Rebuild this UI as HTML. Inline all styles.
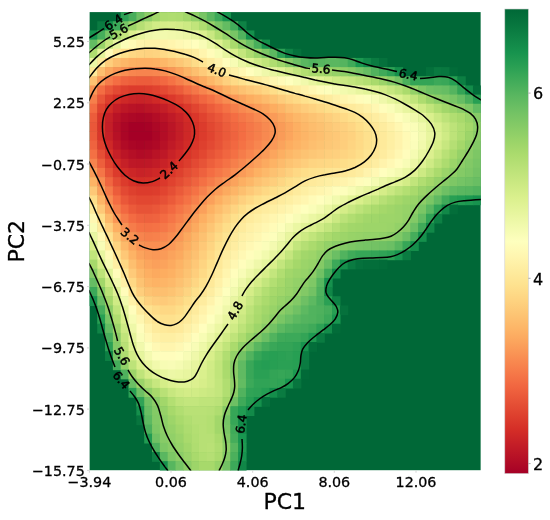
<!DOCTYPE html>
<html><head><meta charset="utf-8"><title>PC1 PC2</title>
<style>html,body{margin:0;padding:0;background:#fff}svg{display:block}text{font-family:"DejaVu Sans","Liberation Sans",sans-serif;fill:#000;stroke:#000;stroke-width:0.3px}.cl text{stroke-width:0.5px}</style></head><body>
<svg width="550" height="520" viewBox="0 0 550 520">
<rect width="550" height="520" fill="#fff"/>
<defs><clipPath id="ax"><rect x="89.4" y="12.1" width="391.4" height="458.3"/></clipPath></defs>
<g clip-path="url(#ax)">
<rect x="89.4" y="12.1" width="391.4" height="458.3" fill="#006837"/>
<rect x="120.71" y="12.10" width="8.43" height="9.77" fill="#2da155"/><rect x="128.54" y="12.10" width="8.43" height="9.77" fill="#48ae5c"/><rect x="136.37" y="12.10" width="8.43" height="9.77" fill="#6ec064"/><rect x="144.20" y="12.10" width="8.43" height="9.77" fill="#8ccd67"/><rect x="152.02" y="12.10" width="8.43" height="9.77" fill="#a2d76a"/><rect x="159.85" y="12.10" width="8.43" height="9.77" fill="#addc6f"/><rect x="167.68" y="12.10" width="8.43" height="9.77" fill="#afdd70"/><rect x="175.51" y="12.10" width="8.43" height="9.77" fill="#addc6f"/><rect x="183.34" y="12.10" width="8.43" height="9.77" fill="#a2d76a"/><rect x="191.16" y="12.10" width="8.43" height="9.77" fill="#91d068"/><rect x="198.99" y="12.10" width="8.43" height="9.77" fill="#78c565"/><rect x="206.82" y="12.10" width="8.43" height="9.77" fill="#5ab760"/><rect x="214.65" y="12.10" width="8.43" height="9.77" fill="#3ca959"/><rect x="222.48" y="12.10" width="8.43" height="9.77" fill="#18954f"/>
<rect x="97.23" y="21.27" width="8.43" height="9.77" fill="#0a7b41"/><rect x="105.06" y="21.27" width="8.43" height="9.77" fill="#15904c"/><rect x="112.88" y="21.27" width="8.43" height="9.77" fill="#3ca959"/><rect x="120.71" y="21.27" width="8.43" height="9.77" fill="#78c565"/><rect x="128.54" y="21.27" width="8.43" height="9.77" fill="#9dd569"/><rect x="136.37" y="21.27" width="8.43" height="9.77" fill="#b5df74"/><rect x="144.20" y="21.27" width="8.43" height="9.77" fill="#c5e67e"/><rect x="152.02" y="21.27" width="8.43" height="9.77" fill="#d1ec86"/><rect x="159.85" y="21.27" width="8.43" height="9.77" fill="#d5ed88"/><rect x="167.68" y="21.27" width="8.43" height="9.77" fill="#d7ee8a"/><rect x="175.51" y="21.27" width="8.43" height="9.77" fill="#d3ec87"/><rect x="183.34" y="21.27" width="8.43" height="9.77" fill="#cdea83"/><rect x="191.16" y="21.27" width="8.43" height="9.77" fill="#c1e57b"/><rect x="198.99" y="21.27" width="8.43" height="9.77" fill="#afdd70"/><rect x="206.82" y="21.27" width="8.43" height="9.77" fill="#96d268"/><rect x="214.65" y="21.27" width="8.43" height="9.77" fill="#7ac665"/><rect x="222.48" y="21.27" width="8.43" height="9.77" fill="#63bc62"/><rect x="230.30" y="21.27" width="8.43" height="9.77" fill="#42ac5a"/><rect x="238.13" y="21.27" width="8.43" height="9.77" fill="#0e8245"/>
<rect x="89.40" y="30.43" width="8.43" height="9.77" fill="#18954f"/><rect x="97.23" y="30.43" width="8.43" height="9.77" fill="#45ad5b"/><rect x="105.06" y="30.43" width="8.43" height="9.77" fill="#75c465"/><rect x="112.88" y="30.43" width="8.43" height="9.77" fill="#a0d669"/><rect x="120.71" y="30.43" width="8.43" height="9.77" fill="#c5e67e"/><rect x="128.54" y="30.43" width="8.43" height="9.77" fill="#dcf08f"/><rect x="136.37" y="30.43" width="8.43" height="9.77" fill="#e8f59f"/><rect x="144.20" y="30.43" width="8.43" height="9.77" fill="#eff8aa"/><rect x="152.02" y="30.43" width="16.26" height="9.77" fill="#f2faae"/><rect x="167.68" y="30.43" width="8.43" height="9.77" fill="#f1f9ac"/><rect x="175.51" y="30.43" width="8.43" height="9.77" fill="#eff8aa"/><rect x="183.34" y="30.43" width="8.43" height="9.77" fill="#ecf7a6"/><rect x="191.16" y="30.43" width="8.43" height="9.77" fill="#e6f59d"/><rect x="198.99" y="30.43" width="8.43" height="9.77" fill="#dcf08f"/><rect x="206.82" y="30.43" width="8.43" height="9.77" fill="#c9e881"/><rect x="214.65" y="30.43" width="8.43" height="9.77" fill="#afdd70"/><rect x="222.48" y="30.43" width="8.43" height="9.77" fill="#93d168"/><rect x="230.30" y="30.43" width="8.43" height="9.77" fill="#78c565"/><rect x="238.13" y="30.43" width="8.43" height="9.77" fill="#51b35e"/><rect x="245.96" y="30.43" width="8.43" height="9.77" fill="#15904c"/>
<rect x="89.40" y="39.60" width="8.43" height="9.77" fill="#63bc62"/><rect x="97.23" y="39.60" width="8.43" height="9.77" fill="#98d368"/><rect x="105.06" y="39.60" width="8.43" height="9.77" fill="#c7e77f"/><rect x="112.88" y="39.60" width="8.43" height="9.77" fill="#e6f59d"/><rect x="120.71" y="39.60" width="8.43" height="9.77" fill="#fafdb8"/><rect x="128.54" y="39.60" width="8.43" height="9.77" fill="#fffab6"/><rect x="136.37" y="39.60" width="8.43" height="9.77" fill="#fff3ac"/><rect x="144.20" y="39.60" width="16.26" height="9.77" fill="#fff1a8"/><rect x="159.85" y="39.60" width="8.43" height="9.77" fill="#fff2aa"/><rect x="167.68" y="39.60" width="8.43" height="9.77" fill="#fff5ae"/><rect x="175.51" y="39.60" width="8.43" height="9.77" fill="#fff8b4"/><rect x="183.34" y="39.60" width="8.43" height="9.77" fill="#fffbb8"/><rect x="191.16" y="39.60" width="8.43" height="9.77" fill="#fffebe"/><rect x="198.99" y="39.60" width="8.43" height="9.77" fill="#f8fcb6"/><rect x="206.82" y="39.60" width="8.43" height="9.77" fill="#ecf7a6"/><rect x="214.65" y="39.60" width="8.43" height="9.77" fill="#dcf08f"/><rect x="222.48" y="39.60" width="8.43" height="9.77" fill="#c3e67d"/><rect x="230.30" y="39.60" width="8.43" height="9.77" fill="#a9da6c"/><rect x="238.13" y="39.60" width="8.43" height="9.77" fill="#8ccd67"/><rect x="245.96" y="39.60" width="8.43" height="9.77" fill="#6ec064"/><rect x="253.79" y="39.60" width="8.43" height="9.77" fill="#48ae5c"/><rect x="261.62" y="39.60" width="8.43" height="9.77" fill="#15904c"/>
<rect x="89.40" y="48.76" width="8.43" height="9.77" fill="#afdd70"/><rect x="97.23" y="48.76" width="8.43" height="9.77" fill="#e3f399"/><rect x="105.06" y="48.76" width="8.43" height="9.77" fill="#fffbb8"/><rect x="112.88" y="48.76" width="8.43" height="9.77" fill="#feea9b"/><rect x="120.71" y="48.76" width="8.43" height="9.77" fill="#fee08b"/><rect x="128.54" y="48.76" width="8.43" height="9.77" fill="#fed884"/><rect x="136.37" y="48.76" width="8.43" height="9.77" fill="#fed481"/><rect x="144.20" y="48.76" width="8.43" height="9.77" fill="#fed27f"/><rect x="152.02" y="48.76" width="8.43" height="9.77" fill="#fed481"/><rect x="159.85" y="48.76" width="8.43" height="9.77" fill="#feda86"/><rect x="167.68" y="48.76" width="8.43" height="9.77" fill="#fee08b"/><rect x="175.51" y="48.76" width="8.43" height="9.77" fill="#fee593"/><rect x="183.34" y="48.76" width="8.43" height="9.77" fill="#fee999"/><rect x="191.16" y="48.76" width="8.43" height="9.77" fill="#feeda1"/><rect x="198.99" y="48.76" width="8.43" height="9.77" fill="#fff5ae"/><rect x="206.82" y="48.76" width="8.43" height="9.77" fill="#fffcba"/><rect x="214.65" y="48.76" width="8.43" height="9.77" fill="#f7fcb4"/><rect x="222.48" y="48.76" width="8.43" height="9.77" fill="#e8f59f"/><rect x="230.30" y="48.76" width="8.43" height="9.77" fill="#d9ef8b"/><rect x="238.13" y="48.76" width="8.43" height="9.77" fill="#c3e67d"/><rect x="245.96" y="48.76" width="8.43" height="9.77" fill="#addc6f"/><rect x="253.79" y="48.76" width="8.43" height="9.77" fill="#96d268"/><rect x="261.62" y="48.76" width="8.43" height="9.77" fill="#7dc765"/><rect x="269.44" y="48.76" width="8.43" height="9.77" fill="#5db961"/><rect x="277.27" y="48.76" width="8.43" height="9.77" fill="#2aa054"/><rect x="285.10" y="48.76" width="8.43" height="9.77" fill="#0e8245"/><rect x="292.93" y="48.76" width="8.43" height="9.77" fill="#05713c"/>
<rect x="89.40" y="57.93" width="8.43" height="9.77" fill="#ecf7a6"/><rect x="97.23" y="57.93" width="8.43" height="9.77" fill="#feea9b"/><rect x="105.06" y="57.93" width="8.43" height="9.77" fill="#fece7c"/><rect x="112.88" y="57.93" width="8.43" height="9.77" fill="#fdbf6f"/><rect x="120.71" y="57.93" width="8.43" height="9.77" fill="#fdb768"/><rect x="128.54" y="57.93" width="8.43" height="9.77" fill="#fdb163"/><rect x="136.37" y="57.93" width="16.26" height="9.77" fill="#fdaf62"/><rect x="152.02" y="57.93" width="8.43" height="9.77" fill="#fdb163"/><rect x="159.85" y="57.93" width="8.43" height="9.77" fill="#fdb768"/><rect x="167.68" y="57.93" width="8.43" height="9.77" fill="#fdbf6f"/><rect x="175.51" y="57.93" width="8.43" height="9.77" fill="#fdc776"/><rect x="183.34" y="57.93" width="8.43" height="9.77" fill="#fed07e"/><rect x="191.16" y="57.93" width="8.43" height="9.77" fill="#fedc88"/><rect x="198.99" y="57.93" width="8.43" height="9.77" fill="#fee593"/><rect x="206.82" y="57.93" width="8.43" height="9.77" fill="#feec9f"/><rect x="214.65" y="57.93" width="8.43" height="9.77" fill="#fff3ac"/><rect x="222.48" y="57.93" width="8.43" height="9.77" fill="#fffdbc"/><rect x="230.30" y="57.93" width="8.43" height="9.77" fill="#f7fcb4"/><rect x="238.13" y="57.93" width="8.43" height="9.77" fill="#ebf7a3"/><rect x="245.96" y="57.93" width="8.43" height="9.77" fill="#dff293"/><rect x="253.79" y="57.93" width="8.43" height="9.77" fill="#cfeb85"/><rect x="261.62" y="57.93" width="8.43" height="9.77" fill="#c1e57b"/><rect x="269.44" y="57.93" width="8.43" height="9.77" fill="#afdd70"/><rect x="277.27" y="57.93" width="8.43" height="9.77" fill="#9dd569"/><rect x="285.10" y="57.93" width="8.43" height="9.77" fill="#84ca66"/><rect x="292.93" y="57.93" width="8.43" height="9.77" fill="#6ec064"/><rect x="300.76" y="57.93" width="8.43" height="9.77" fill="#5ab760"/><rect x="308.58" y="57.93" width="8.43" height="9.77" fill="#51b35e"/><rect x="316.41" y="57.93" width="8.43" height="9.77" fill="#57b65f"/><rect x="324.24" y="57.93" width="16.26" height="9.77" fill="#5ab760"/><rect x="339.90" y="57.93" width="8.43" height="9.77" fill="#54b45f"/><rect x="347.72" y="57.93" width="8.43" height="9.77" fill="#3faa59"/><rect x="355.55" y="57.93" width="8.43" height="9.77" fill="#1b9950"/><rect x="363.38" y="57.93" width="8.43" height="9.77" fill="#118848"/><rect x="371.21" y="57.93" width="8.43" height="9.77" fill="#0a7b41"/><rect x="379.04" y="57.93" width="8.43" height="9.77" fill="#05713c"/>
<rect x="89.40" y="67.10" width="8.43" height="9.77" fill="#fee999"/><rect x="97.23" y="67.10" width="8.43" height="9.77" fill="#fdbf6f"/><rect x="105.06" y="67.10" width="8.43" height="9.77" fill="#fca85e"/><rect x="112.88" y="67.10" width="8.43" height="9.77" fill="#fa9857"/><rect x="120.71" y="67.10" width="8.43" height="9.77" fill="#f98e52"/><rect x="128.54" y="67.10" width="8.43" height="9.77" fill="#f8864f"/><rect x="136.37" y="67.10" width="16.26" height="9.77" fill="#f7844e"/><rect x="152.02" y="67.10" width="8.43" height="9.77" fill="#f8864f"/><rect x="159.85" y="67.10" width="8.43" height="9.77" fill="#f98e52"/><rect x="167.68" y="67.10" width="8.43" height="9.77" fill="#fa9857"/><rect x="175.51" y="67.10" width="8.43" height="9.77" fill="#fca55d"/><rect x="183.34" y="67.10" width="8.43" height="9.77" fill="#fdb365"/><rect x="191.16" y="67.10" width="8.43" height="9.77" fill="#fdbf6f"/><rect x="198.99" y="67.10" width="8.43" height="9.77" fill="#feca79"/><rect x="206.82" y="67.10" width="8.43" height="9.77" fill="#fed683"/><rect x="214.65" y="67.10" width="8.43" height="9.77" fill="#fee28f"/><rect x="222.48" y="67.10" width="8.43" height="9.77" fill="#feeb9d"/><rect x="230.30" y="67.10" width="8.43" height="9.77" fill="#fff1a8"/><rect x="238.13" y="67.10" width="8.43" height="9.77" fill="#fff7b2"/><rect x="245.96" y="67.10" width="8.43" height="9.77" fill="#fffebe"/><rect x="253.79" y="67.10" width="8.43" height="9.77" fill="#f8fcb6"/><rect x="261.62" y="67.10" width="8.43" height="9.77" fill="#eff8aa"/><rect x="269.44" y="67.10" width="8.43" height="9.77" fill="#e8f59f"/><rect x="277.27" y="67.10" width="8.43" height="9.77" fill="#dff293"/><rect x="285.10" y="67.10" width="8.43" height="9.77" fill="#d3ec87"/><rect x="292.93" y="67.10" width="8.43" height="9.77" fill="#c3e67d"/><rect x="300.76" y="67.10" width="8.43" height="9.77" fill="#b3df72"/><rect x="308.58" y="67.10" width="8.43" height="9.77" fill="#a9da6c"/><rect x="316.41" y="67.10" width="8.43" height="9.77" fill="#a7d96b"/><rect x="324.24" y="67.10" width="8.43" height="9.77" fill="#9dd569"/><rect x="332.07" y="67.10" width="8.43" height="9.77" fill="#96d268"/><rect x="339.90" y="67.10" width="8.43" height="9.77" fill="#8ecf67"/><rect x="347.72" y="67.10" width="8.43" height="9.77" fill="#84ca66"/><rect x="355.55" y="67.10" width="8.43" height="9.77" fill="#75c465"/><rect x="363.38" y="67.10" width="8.43" height="9.77" fill="#66bd63"/><rect x="371.21" y="67.10" width="8.43" height="9.77" fill="#51b35e"/><rect x="379.04" y="67.10" width="8.43" height="9.77" fill="#3faa59"/><rect x="386.86" y="67.10" width="8.43" height="9.77" fill="#2da155"/><rect x="394.69" y="67.10" width="8.43" height="9.77" fill="#148e4b"/><rect x="426.00" y="67.10" width="8.43" height="9.77" fill="#04703b"/><rect x="433.83" y="67.10" width="8.43" height="9.77" fill="#097940"/><rect x="441.66" y="67.10" width="8.43" height="9.77" fill="#08773f"/><rect x="449.49" y="67.10" width="8.43" height="9.77" fill="#026c39"/>
<rect x="89.40" y="76.26" width="8.43" height="9.77" fill="#fdc171"/><rect x="97.23" y="76.26" width="8.43" height="9.77" fill="#fa9656"/><rect x="105.06" y="76.26" width="8.43" height="9.77" fill="#f67c4a"/><rect x="112.88" y="76.26" width="8.43" height="9.77" fill="#f46d43"/><rect x="120.71" y="76.26" width="8.43" height="9.77" fill="#ef633f"/><rect x="128.54" y="76.26" width="8.43" height="9.77" fill="#ed5f3c"/><rect x="136.37" y="76.26" width="16.26" height="9.77" fill="#ec5c3b"/><rect x="152.02" y="76.26" width="8.43" height="9.77" fill="#ee613e"/><rect x="159.85" y="76.26" width="8.43" height="9.77" fill="#f26841"/><rect x="167.68" y="76.26" width="8.43" height="9.77" fill="#f57245"/><rect x="175.51" y="76.26" width="8.43" height="9.77" fill="#f67f4b"/><rect x="183.34" y="76.26" width="8.43" height="9.77" fill="#f88c51"/><rect x="191.16" y="76.26" width="8.43" height="9.77" fill="#fb9d59"/><rect x="198.99" y="76.26" width="8.43" height="9.77" fill="#fcaa5f"/><rect x="206.82" y="76.26" width="8.43" height="9.77" fill="#fdb768"/><rect x="214.65" y="76.26" width="8.43" height="9.77" fill="#fdc372"/><rect x="222.48" y="76.26" width="8.43" height="9.77" fill="#fed07e"/><rect x="230.30" y="76.26" width="8.43" height="9.77" fill="#feda86"/><rect x="238.13" y="76.26" width="8.43" height="9.77" fill="#fee18d"/><rect x="245.96" y="76.26" width="8.43" height="9.77" fill="#fee695"/><rect x="253.79" y="76.26" width="8.43" height="9.77" fill="#feeb9d"/><rect x="261.62" y="76.26" width="8.43" height="9.77" fill="#fff0a6"/><rect x="269.44" y="76.26" width="8.43" height="9.77" fill="#fff6b0"/><rect x="277.27" y="76.26" width="8.43" height="9.77" fill="#fffbb8"/><rect x="285.10" y="76.26" width="8.43" height="9.77" fill="#feffbe"/><rect x="292.93" y="76.26" width="8.43" height="9.77" fill="#f8fcb6"/><rect x="300.76" y="76.26" width="8.43" height="9.77" fill="#f1f9ac"/><rect x="308.58" y="76.26" width="8.43" height="9.77" fill="#e8f59f"/><rect x="316.41" y="76.26" width="8.43" height="9.77" fill="#dff293"/><rect x="324.24" y="76.26" width="8.43" height="9.77" fill="#d9ef8b"/><rect x="332.07" y="76.26" width="8.43" height="9.77" fill="#cfeb85"/><rect x="339.90" y="76.26" width="8.43" height="9.77" fill="#c9e881"/><rect x="347.72" y="76.26" width="8.43" height="9.77" fill="#c3e67d"/><rect x="355.55" y="76.26" width="8.43" height="9.77" fill="#bbe278"/><rect x="363.38" y="76.26" width="8.43" height="9.77" fill="#b3df72"/><rect x="371.21" y="76.26" width="8.43" height="9.77" fill="#a9da6c"/><rect x="379.04" y="76.26" width="8.43" height="9.77" fill="#9bd469"/><rect x="386.86" y="76.26" width="8.43" height="9.77" fill="#89cc67"/><rect x="394.69" y="76.26" width="8.43" height="9.77" fill="#73c264"/><rect x="402.52" y="76.26" width="8.43" height="9.77" fill="#4bb05c"/><rect x="410.35" y="76.26" width="24.08" height="9.77" fill="#33a456"/><rect x="433.83" y="76.26" width="8.43" height="9.77" fill="#3ca959"/><rect x="441.66" y="76.26" width="8.43" height="9.77" fill="#39a758"/><rect x="449.49" y="76.26" width="8.43" height="9.77" fill="#279f53"/><rect x="457.32" y="76.26" width="8.43" height="9.77" fill="#0c7f43"/>
<rect x="89.40" y="85.43" width="8.43" height="9.77" fill="#fa9656"/><rect x="97.23" y="85.43" width="8.43" height="9.77" fill="#f46d43"/><rect x="105.06" y="85.43" width="8.43" height="9.77" fill="#ea5739"/><rect x="112.88" y="85.43" width="8.43" height="9.77" fill="#e34933"/><rect x="120.71" y="85.43" width="8.43" height="9.77" fill="#de402e"/><rect x="128.54" y="85.43" width="16.26" height="9.77" fill="#dc3b2c"/><rect x="144.20" y="85.43" width="8.43" height="9.77" fill="#dd3d2d"/><rect x="152.02" y="85.43" width="8.43" height="9.77" fill="#e0422f"/><rect x="159.85" y="85.43" width="8.43" height="9.77" fill="#e34933"/><rect x="167.68" y="85.43" width="8.43" height="9.77" fill="#e75337"/><rect x="175.51" y="85.43" width="8.43" height="9.77" fill="#ec5c3b"/><rect x="183.34" y="85.43" width="8.43" height="9.77" fill="#f36b42"/><rect x="191.16" y="85.43" width="8.43" height="9.77" fill="#f57748"/><rect x="198.99" y="85.43" width="8.43" height="9.77" fill="#f7844e"/><rect x="206.82" y="85.43" width="8.43" height="9.77" fill="#f99153"/><rect x="214.65" y="85.43" width="8.43" height="9.77" fill="#fba05b"/><rect x="222.48" y="85.43" width="8.43" height="9.77" fill="#fdaf62"/><rect x="230.30" y="85.43" width="8.43" height="9.77" fill="#fdb96a"/><rect x="238.13" y="85.43" width="8.43" height="9.77" fill="#fdc171"/><rect x="245.96" y="85.43" width="8.43" height="9.77" fill="#fec877"/><rect x="253.79" y="85.43" width="8.43" height="9.77" fill="#fece7c"/><rect x="261.62" y="85.43" width="8.43" height="9.77" fill="#fed683"/><rect x="269.44" y="85.43" width="8.43" height="9.77" fill="#fede89"/><rect x="277.27" y="85.43" width="8.43" height="9.77" fill="#fee593"/><rect x="285.10" y="85.43" width="8.43" height="9.77" fill="#feea9b"/><rect x="292.93" y="85.43" width="8.43" height="9.77" fill="#feeda1"/><rect x="300.76" y="85.43" width="8.43" height="9.77" fill="#fff2aa"/><rect x="308.58" y="85.43" width="8.43" height="9.77" fill="#fff7b2"/><rect x="316.41" y="85.43" width="8.43" height="9.77" fill="#fffcba"/><rect x="324.24" y="85.43" width="8.43" height="9.77" fill="#fdfebc"/><rect x="332.07" y="85.43" width="8.43" height="9.77" fill="#f7fcb4"/><rect x="339.90" y="85.43" width="8.43" height="9.77" fill="#f2faae"/><rect x="347.72" y="85.43" width="8.43" height="9.77" fill="#eef8a8"/><rect x="355.55" y="85.43" width="8.43" height="9.77" fill="#e8f59f"/><rect x="363.38" y="85.43" width="8.43" height="9.77" fill="#e2f397"/><rect x="371.21" y="85.43" width="8.43" height="9.77" fill="#dcf08f"/><rect x="379.04" y="85.43" width="8.43" height="9.77" fill="#d3ec87"/><rect x="386.86" y="85.43" width="8.43" height="9.77" fill="#c7e77f"/><rect x="394.69" y="85.43" width="8.43" height="9.77" fill="#bbe278"/><rect x="402.52" y="85.43" width="8.43" height="9.77" fill="#abdb6d"/><rect x="410.35" y="85.43" width="8.43" height="9.77" fill="#93d168"/><rect x="418.18" y="85.43" width="8.43" height="9.77" fill="#7dc765"/><rect x="426.00" y="85.43" width="8.43" height="9.77" fill="#70c164"/><rect x="433.83" y="85.43" width="8.43" height="9.77" fill="#6bbf64"/><rect x="441.66" y="85.43" width="8.43" height="9.77" fill="#66bd63"/><rect x="449.49" y="85.43" width="8.43" height="9.77" fill="#54b45f"/><rect x="457.32" y="85.43" width="8.43" height="9.77" fill="#33a456"/><rect x="465.14" y="85.43" width="8.43" height="9.77" fill="#138c4a"/><rect x="472.97" y="85.43" width="8.43" height="9.77" fill="#036e3a"/>
<rect x="89.40" y="94.59" width="8.43" height="9.77" fill="#f67f4b"/><rect x="97.23" y="94.59" width="8.43" height="9.77" fill="#e95538"/><rect x="105.06" y="94.59" width="8.43" height="9.77" fill="#dd3d2d"/><rect x="112.88" y="94.59" width="8.43" height="9.77" fill="#d62f27"/><rect x="120.71" y="94.59" width="8.43" height="9.77" fill="#ce2827"/><rect x="128.54" y="94.59" width="8.43" height="9.77" fill="#ca2427"/><rect x="136.37" y="94.59" width="8.43" height="9.77" fill="#c82227"/><rect x="144.20" y="94.59" width="8.43" height="9.77" fill="#ca2427"/><rect x="152.02" y="94.59" width="8.43" height="9.77" fill="#d02927"/><rect x="159.85" y="94.59" width="8.43" height="9.77" fill="#d62f27"/><rect x="167.68" y="94.59" width="8.43" height="9.77" fill="#db382b"/><rect x="175.51" y="94.59" width="8.43" height="9.77" fill="#e0422f"/><rect x="183.34" y="94.59" width="8.43" height="9.77" fill="#e54e35"/><rect x="191.16" y="94.59" width="8.43" height="9.77" fill="#eb5a3a"/><rect x="198.99" y="94.59" width="8.43" height="9.77" fill="#f16640"/><rect x="206.82" y="94.59" width="8.43" height="9.77" fill="#f47044"/><rect x="214.65" y="94.59" width="8.43" height="9.77" fill="#f67f4b"/><rect x="222.48" y="94.59" width="8.43" height="9.77" fill="#f88c51"/><rect x="230.30" y="94.59" width="8.43" height="9.77" fill="#fa9857"/><rect x="238.13" y="94.59" width="8.43" height="9.77" fill="#fba35c"/><rect x="245.96" y="94.59" width="8.43" height="9.77" fill="#fdad60"/><rect x="253.79" y="94.59" width="8.43" height="9.77" fill="#fdb365"/><rect x="261.62" y="94.59" width="8.43" height="9.77" fill="#fdbb6c"/><rect x="269.44" y="94.59" width="8.43" height="9.77" fill="#fdc372"/><rect x="277.27" y="94.59" width="8.43" height="9.77" fill="#fecc7b"/><rect x="285.10" y="94.59" width="8.43" height="9.77" fill="#fed481"/><rect x="292.93" y="94.59" width="8.43" height="9.77" fill="#feda86"/><rect x="300.76" y="94.59" width="8.43" height="9.77" fill="#fee18d"/><rect x="308.58" y="94.59" width="8.43" height="9.77" fill="#fee593"/><rect x="316.41" y="94.59" width="8.43" height="9.77" fill="#fee999"/><rect x="324.24" y="94.59" width="8.43" height="9.77" fill="#feec9f"/><rect x="332.07" y="94.59" width="8.43" height="9.77" fill="#fff1a8"/><rect x="339.90" y="94.59" width="8.43" height="9.77" fill="#fff5ae"/><rect x="347.72" y="94.59" width="8.43" height="9.77" fill="#fff8b4"/><rect x="355.55" y="94.59" width="8.43" height="9.77" fill="#fffcba"/><rect x="363.38" y="94.59" width="8.43" height="9.77" fill="#fdfebc"/><rect x="371.21" y="94.59" width="8.43" height="9.77" fill="#f7fcb4"/><rect x="379.04" y="94.59" width="8.43" height="9.77" fill="#eff8aa"/><rect x="386.86" y="94.59" width="8.43" height="9.77" fill="#e6f59d"/><rect x="394.69" y="94.59" width="8.43" height="9.77" fill="#ddf191"/><rect x="402.52" y="94.59" width="8.43" height="9.77" fill="#d1ec86"/><rect x="410.35" y="94.59" width="8.43" height="9.77" fill="#c1e57b"/><rect x="418.18" y="94.59" width="8.43" height="9.77" fill="#addc6f"/><rect x="426.00" y="94.59" width="8.43" height="9.77" fill="#9bd469"/><rect x="433.83" y="94.59" width="8.43" height="9.77" fill="#8ccd67"/><rect x="441.66" y="94.59" width="8.43" height="9.77" fill="#82c966"/><rect x="449.49" y="94.59" width="8.43" height="9.77" fill="#78c565"/><rect x="457.32" y="94.59" width="8.43" height="9.77" fill="#66bd63"/><rect x="465.14" y="94.59" width="8.43" height="9.77" fill="#4bb05c"/><rect x="472.97" y="94.59" width="8.43" height="9.77" fill="#279f53"/>
<rect x="89.40" y="103.76" width="8.43" height="9.77" fill="#f36b42"/><rect x="97.23" y="103.76" width="8.43" height="9.77" fill="#e0422f"/><rect x="105.06" y="103.76" width="8.43" height="9.77" fill="#d22b27"/><rect x="112.88" y="103.76" width="8.43" height="9.77" fill="#c41e27"/><rect x="120.71" y="103.76" width="8.43" height="9.77" fill="#bd1726"/><rect x="128.54" y="103.76" width="8.43" height="9.77" fill="#b91326"/><rect x="136.37" y="103.76" width="8.43" height="9.77" fill="#b71126"/><rect x="144.20" y="103.76" width="8.43" height="9.77" fill="#bb1526"/><rect x="152.02" y="103.76" width="8.43" height="9.77" fill="#be1827"/><rect x="159.85" y="103.76" width="8.43" height="9.77" fill="#c41e27"/><rect x="167.68" y="103.76" width="8.43" height="9.77" fill="#cc2627"/><rect x="175.51" y="103.76" width="8.43" height="9.77" fill="#d42d27"/><rect x="183.34" y="103.76" width="8.43" height="9.77" fill="#db382b"/><rect x="191.16" y="103.76" width="8.43" height="9.77" fill="#e14430"/><rect x="198.99" y="103.76" width="8.43" height="9.77" fill="#e65036"/><rect x="206.82" y="103.76" width="8.43" height="9.77" fill="#ec5c3b"/><rect x="214.65" y="103.76" width="8.43" height="9.77" fill="#f16640"/><rect x="222.48" y="103.76" width="8.43" height="9.77" fill="#f57245"/><rect x="230.30" y="103.76" width="8.43" height="9.77" fill="#f67f4b"/><rect x="238.13" y="103.76" width="8.43" height="9.77" fill="#f88950"/><rect x="245.96" y="103.76" width="8.43" height="9.77" fill="#f99153"/><rect x="253.79" y="103.76" width="8.43" height="9.77" fill="#fa9b58"/><rect x="261.62" y="103.76" width="8.43" height="9.77" fill="#fba35c"/><rect x="269.44" y="103.76" width="8.43" height="9.77" fill="#fdad60"/><rect x="277.27" y="103.76" width="8.43" height="9.77" fill="#fdb567"/><rect x="285.10" y="103.76" width="8.43" height="9.77" fill="#fdbf6f"/><rect x="292.93" y="103.76" width="8.43" height="9.77" fill="#fdc574"/><rect x="300.76" y="103.76" width="8.43" height="9.77" fill="#fecc7b"/><rect x="308.58" y="103.76" width="8.43" height="9.77" fill="#fed27f"/><rect x="316.41" y="103.76" width="8.43" height="9.77" fill="#fed884"/><rect x="324.24" y="103.76" width="8.43" height="9.77" fill="#fede89"/><rect x="332.07" y="103.76" width="8.43" height="9.77" fill="#fee28f"/><rect x="339.90" y="103.76" width="8.43" height="9.77" fill="#fee695"/><rect x="347.72" y="103.76" width="8.43" height="9.77" fill="#feea9b"/><rect x="355.55" y="103.76" width="8.43" height="9.77" fill="#feeda1"/><rect x="363.38" y="103.76" width="8.43" height="9.77" fill="#fff1a8"/><rect x="371.21" y="103.76" width="8.43" height="9.77" fill="#fff7b2"/><rect x="379.04" y="103.76" width="8.43" height="9.77" fill="#fffdbc"/><rect x="386.86" y="103.76" width="8.43" height="9.77" fill="#fafdb8"/><rect x="394.69" y="103.76" width="8.43" height="9.77" fill="#f1f9ac"/><rect x="402.52" y="103.76" width="8.43" height="9.77" fill="#e8f59f"/><rect x="410.35" y="103.76" width="8.43" height="9.77" fill="#ddf191"/><rect x="418.18" y="103.76" width="8.43" height="9.77" fill="#d1ec86"/><rect x="426.00" y="103.76" width="8.43" height="9.77" fill="#c1e57b"/><rect x="433.83" y="103.76" width="8.43" height="9.77" fill="#b1de71"/><rect x="441.66" y="103.76" width="8.43" height="9.77" fill="#a2d76a"/><rect x="449.49" y="103.76" width="8.43" height="9.77" fill="#98d368"/><rect x="457.32" y="103.76" width="8.43" height="9.77" fill="#8ccd67"/><rect x="465.14" y="103.76" width="8.43" height="9.77" fill="#7fc866"/><rect x="472.97" y="103.76" width="8.43" height="9.77" fill="#63bc62"/>
<rect x="89.40" y="112.93" width="8.43" height="9.77" fill="#ec5c3b"/><rect x="97.23" y="112.93" width="8.43" height="9.77" fill="#da362a"/><rect x="105.06" y="112.93" width="8.43" height="9.77" fill="#c62027"/><rect x="112.88" y="112.93" width="8.43" height="9.77" fill="#b91326"/><rect x="120.71" y="112.93" width="8.43" height="9.77" fill="#b10b26"/><rect x="128.54" y="112.93" width="8.43" height="9.77" fill="#ad0826"/><rect x="136.37" y="112.93" width="8.43" height="9.77" fill="#ab0626"/><rect x="144.20" y="112.93" width="8.43" height="9.77" fill="#ad0826"/><rect x="152.02" y="112.93" width="8.43" height="9.77" fill="#b30d26"/><rect x="159.85" y="112.93" width="8.43" height="9.77" fill="#b91326"/><rect x="167.68" y="112.93" width="8.43" height="9.77" fill="#c01a27"/><rect x="175.51" y="112.93" width="8.43" height="9.77" fill="#c82227"/><rect x="183.34" y="112.93" width="8.43" height="9.77" fill="#d22b27"/><rect x="191.16" y="112.93" width="8.43" height="9.77" fill="#da362a"/><rect x="198.99" y="112.93" width="8.43" height="9.77" fill="#e0422f"/><rect x="206.82" y="112.93" width="8.43" height="9.77" fill="#e54e35"/><rect x="214.65" y="112.93" width="8.43" height="9.77" fill="#ea5739"/><rect x="222.48" y="112.93" width="8.43" height="9.77" fill="#ef633f"/><rect x="230.30" y="112.93" width="8.43" height="9.77" fill="#f46d43"/><rect x="238.13" y="112.93" width="8.43" height="9.77" fill="#f57748"/><rect x="245.96" y="112.93" width="8.43" height="9.77" fill="#f67f4b"/><rect x="253.79" y="112.93" width="8.43" height="9.77" fill="#f88950"/><rect x="261.62" y="112.93" width="8.43" height="9.77" fill="#f99153"/><rect x="269.44" y="112.93" width="8.43" height="9.77" fill="#fa9b58"/><rect x="277.27" y="112.93" width="8.43" height="9.77" fill="#fca55d"/><rect x="285.10" y="112.93" width="8.43" height="9.77" fill="#fdaf62"/><rect x="292.93" y="112.93" width="8.43" height="9.77" fill="#fdb768"/><rect x="300.76" y="112.93" width="8.43" height="9.77" fill="#fdbd6d"/><rect x="308.58" y="112.93" width="8.43" height="9.77" fill="#fdc372"/><rect x="316.41" y="112.93" width="8.43" height="9.77" fill="#fec877"/><rect x="324.24" y="112.93" width="8.43" height="9.77" fill="#fece7c"/><rect x="332.07" y="112.93" width="8.43" height="9.77" fill="#fed481"/><rect x="339.90" y="112.93" width="8.43" height="9.77" fill="#feda86"/><rect x="347.72" y="112.93" width="8.43" height="9.77" fill="#fee08b"/><rect x="355.55" y="112.93" width="8.43" height="9.77" fill="#fee491"/><rect x="363.38" y="112.93" width="8.43" height="9.77" fill="#fee999"/><rect x="371.21" y="112.93" width="8.43" height="9.77" fill="#feeda1"/><rect x="379.04" y="112.93" width="8.43" height="9.77" fill="#fff2aa"/><rect x="386.86" y="112.93" width="8.43" height="9.77" fill="#fff8b4"/><rect x="394.69" y="112.93" width="8.43" height="9.77" fill="#fffebe"/><rect x="402.52" y="112.93" width="8.43" height="9.77" fill="#f8fcb6"/><rect x="410.35" y="112.93" width="8.43" height="9.77" fill="#eff8aa"/><rect x="418.18" y="112.93" width="8.43" height="9.77" fill="#e6f59d"/><rect x="426.00" y="112.93" width="8.43" height="9.77" fill="#daf08d"/><rect x="433.83" y="112.93" width="8.43" height="9.77" fill="#cbe982"/><rect x="441.66" y="112.93" width="8.43" height="9.77" fill="#bde379"/><rect x="449.49" y="112.93" width="8.43" height="9.77" fill="#b1de71"/><rect x="457.32" y="112.93" width="8.43" height="9.77" fill="#a9da6c"/><rect x="465.14" y="112.93" width="8.43" height="9.77" fill="#9bd469"/><rect x="472.97" y="112.93" width="8.43" height="9.77" fill="#87cb67"/>
<rect x="89.40" y="122.09" width="8.43" height="9.77" fill="#ea5739"/><rect x="97.23" y="122.09" width="8.43" height="9.77" fill="#d93429"/><rect x="105.06" y="122.09" width="8.43" height="9.77" fill="#c41e27"/><rect x="112.88" y="122.09" width="8.43" height="9.77" fill="#b50f26"/><rect x="120.71" y="122.09" width="8.43" height="9.77" fill="#ab0626"/><rect x="128.54" y="122.09" width="16.26" height="9.77" fill="#a50026"/><rect x="144.20" y="122.09" width="8.43" height="9.77" fill="#a70226"/><rect x="152.02" y="122.09" width="8.43" height="9.77" fill="#ad0826"/><rect x="159.85" y="122.09" width="8.43" height="9.77" fill="#b30d26"/><rect x="167.68" y="122.09" width="8.43" height="9.77" fill="#bb1526"/><rect x="175.51" y="122.09" width="8.43" height="9.77" fill="#c41e27"/><rect x="183.34" y="122.09" width="8.43" height="9.77" fill="#ce2827"/><rect x="191.16" y="122.09" width="8.43" height="9.77" fill="#d83128"/><rect x="198.99" y="122.09" width="8.43" height="9.77" fill="#dc3b2c"/><rect x="206.82" y="122.09" width="8.43" height="9.77" fill="#e24731"/><rect x="214.65" y="122.09" width="8.43" height="9.77" fill="#e65036"/><rect x="222.48" y="122.09" width="8.43" height="9.77" fill="#ec5c3b"/><rect x="230.30" y="122.09" width="8.43" height="9.77" fill="#f16640"/><rect x="238.13" y="122.09" width="8.43" height="9.77" fill="#f46d43"/><rect x="245.96" y="122.09" width="8.43" height="9.77" fill="#f57748"/><rect x="253.79" y="122.09" width="8.43" height="9.77" fill="#f67f4b"/><rect x="261.62" y="122.09" width="8.43" height="9.77" fill="#f88950"/><rect x="269.44" y="122.09" width="8.43" height="9.77" fill="#f99153"/><rect x="277.27" y="122.09" width="8.43" height="9.77" fill="#fa9b58"/><rect x="285.10" y="122.09" width="8.43" height="9.77" fill="#fca55d"/><rect x="292.93" y="122.09" width="8.43" height="9.77" fill="#fdaf62"/><rect x="300.76" y="122.09" width="8.43" height="9.77" fill="#fdb768"/><rect x="308.58" y="122.09" width="8.43" height="9.77" fill="#fdbd6d"/><rect x="316.41" y="122.09" width="8.43" height="9.77" fill="#fdc171"/><rect x="324.24" y="122.09" width="8.43" height="9.77" fill="#fdc776"/><rect x="332.07" y="122.09" width="8.43" height="9.77" fill="#fecc7b"/><rect x="339.90" y="122.09" width="8.43" height="9.77" fill="#fed07e"/><rect x="347.72" y="122.09" width="8.43" height="9.77" fill="#fed683"/><rect x="355.55" y="122.09" width="8.43" height="9.77" fill="#fede89"/><rect x="363.38" y="122.09" width="8.43" height="9.77" fill="#fee491"/><rect x="371.21" y="122.09" width="8.43" height="9.77" fill="#fee797"/><rect x="379.04" y="122.09" width="8.43" height="9.77" fill="#feec9f"/><rect x="386.86" y="122.09" width="8.43" height="9.77" fill="#fff1a8"/><rect x="394.69" y="122.09" width="8.43" height="9.77" fill="#fff7b2"/><rect x="402.52" y="122.09" width="8.43" height="9.77" fill="#fffdbc"/><rect x="410.35" y="122.09" width="8.43" height="9.77" fill="#fafdb8"/><rect x="418.18" y="122.09" width="8.43" height="9.77" fill="#f1f9ac"/><rect x="426.00" y="122.09" width="8.43" height="9.77" fill="#e5f49b"/><rect x="433.83" y="122.09" width="8.43" height="9.77" fill="#daf08d"/><rect x="441.66" y="122.09" width="8.43" height="9.77" fill="#cbe982"/><rect x="449.49" y="122.09" width="8.43" height="9.77" fill="#bde379"/><rect x="457.32" y="122.09" width="8.43" height="9.77" fill="#b1de71"/><rect x="465.14" y="122.09" width="8.43" height="9.77" fill="#a5d86a"/><rect x="472.97" y="122.09" width="8.43" height="9.77" fill="#91d068"/>
<rect x="89.40" y="131.26" width="8.43" height="9.77" fill="#eb5a3a"/><rect x="97.23" y="131.26" width="8.43" height="9.77" fill="#da362a"/><rect x="105.06" y="131.26" width="8.43" height="9.77" fill="#c62027"/><rect x="112.88" y="131.26" width="8.43" height="9.77" fill="#b71126"/><rect x="120.71" y="131.26" width="8.43" height="9.77" fill="#ab0626"/><rect x="128.54" y="131.26" width="24.08" height="9.77" fill="#a50026"/><rect x="152.02" y="131.26" width="8.43" height="9.77" fill="#ab0626"/><rect x="159.85" y="131.26" width="8.43" height="9.77" fill="#b30d26"/><rect x="167.68" y="131.26" width="8.43" height="9.77" fill="#bb1526"/><rect x="175.51" y="131.26" width="8.43" height="9.77" fill="#c41e27"/><rect x="183.34" y="131.26" width="8.43" height="9.77" fill="#ce2827"/><rect x="191.16" y="131.26" width="8.43" height="9.77" fill="#d83128"/><rect x="198.99" y="131.26" width="8.43" height="9.77" fill="#dc3b2c"/><rect x="206.82" y="131.26" width="8.43" height="9.77" fill="#e14430"/><rect x="214.65" y="131.26" width="8.43" height="9.77" fill="#e65036"/><rect x="222.48" y="131.26" width="8.43" height="9.77" fill="#eb5a3a"/><rect x="230.30" y="131.26" width="8.43" height="9.77" fill="#ef633f"/><rect x="238.13" y="131.26" width="8.43" height="9.77" fill="#f46d43"/><rect x="245.96" y="131.26" width="8.43" height="9.77" fill="#f57748"/><rect x="253.79" y="131.26" width="8.43" height="9.77" fill="#f67f4b"/><rect x="261.62" y="131.26" width="8.43" height="9.77" fill="#f88950"/><rect x="269.44" y="131.26" width="8.43" height="9.77" fill="#f99153"/><rect x="277.27" y="131.26" width="8.43" height="9.77" fill="#fa9b58"/><rect x="285.10" y="131.26" width="8.43" height="9.77" fill="#fca55d"/><rect x="292.93" y="131.26" width="8.43" height="9.77" fill="#fdaf62"/><rect x="300.76" y="131.26" width="8.43" height="9.77" fill="#fdb567"/><rect x="308.58" y="131.26" width="8.43" height="9.77" fill="#fdbb6c"/><rect x="316.41" y="131.26" width="8.43" height="9.77" fill="#fdbf6f"/><rect x="324.24" y="131.26" width="8.43" height="9.77" fill="#fdc574"/><rect x="332.07" y="131.26" width="8.43" height="9.77" fill="#fec877"/><rect x="339.90" y="131.26" width="8.43" height="9.77" fill="#fece7c"/><rect x="347.72" y="131.26" width="8.43" height="9.77" fill="#fed27f"/><rect x="355.55" y="131.26" width="8.43" height="9.77" fill="#feda86"/><rect x="363.38" y="131.26" width="8.43" height="9.77" fill="#fee18d"/><rect x="371.21" y="131.26" width="8.43" height="9.77" fill="#fee593"/><rect x="379.04" y="131.26" width="8.43" height="9.77" fill="#feea9b"/><rect x="386.86" y="131.26" width="8.43" height="9.77" fill="#feefa3"/><rect x="394.69" y="131.26" width="8.43" height="9.77" fill="#fff3ac"/><rect x="402.52" y="131.26" width="8.43" height="9.77" fill="#fffab6"/><rect x="410.35" y="131.26" width="8.43" height="9.77" fill="#fdfebc"/><rect x="418.18" y="131.26" width="8.43" height="9.77" fill="#f4fab0"/><rect x="426.00" y="131.26" width="8.43" height="9.77" fill="#e8f59f"/><rect x="433.83" y="131.26" width="8.43" height="9.77" fill="#ddf191"/><rect x="441.66" y="131.26" width="8.43" height="9.77" fill="#cfeb85"/><rect x="449.49" y="131.26" width="8.43" height="9.77" fill="#bde379"/><rect x="457.32" y="131.26" width="8.43" height="9.77" fill="#afdd70"/><rect x="465.14" y="131.26" width="8.43" height="9.77" fill="#9dd569"/><rect x="472.97" y="131.26" width="8.43" height="9.77" fill="#8ccd67"/>
<rect x="89.40" y="140.42" width="8.43" height="9.77" fill="#ef633f"/><rect x="97.23" y="140.42" width="8.43" height="9.77" fill="#de402e"/><rect x="105.06" y="140.42" width="8.43" height="9.77" fill="#ce2827"/><rect x="112.88" y="140.42" width="8.43" height="9.77" fill="#bd1726"/><rect x="120.71" y="140.42" width="8.43" height="9.77" fill="#b10b26"/><rect x="128.54" y="140.42" width="8.43" height="9.77" fill="#ab0626"/><rect x="136.37" y="140.42" width="8.43" height="9.77" fill="#a90426"/><rect x="144.20" y="140.42" width="8.43" height="9.77" fill="#ab0626"/><rect x="152.02" y="140.42" width="8.43" height="9.77" fill="#af0926"/><rect x="159.85" y="140.42" width="8.43" height="9.77" fill="#b71126"/><rect x="167.68" y="140.42" width="8.43" height="9.77" fill="#c01a27"/><rect x="175.51" y="140.42" width="8.43" height="9.77" fill="#c82227"/><rect x="183.34" y="140.42" width="8.43" height="9.77" fill="#d22b27"/><rect x="191.16" y="140.42" width="8.43" height="9.77" fill="#da362a"/><rect x="198.99" y="140.42" width="8.43" height="9.77" fill="#de402e"/><rect x="206.82" y="140.42" width="8.43" height="9.77" fill="#e34933"/><rect x="214.65" y="140.42" width="8.43" height="9.77" fill="#e75337"/><rect x="222.48" y="140.42" width="8.43" height="9.77" fill="#ed5f3c"/><rect x="230.30" y="140.42" width="8.43" height="9.77" fill="#f26841"/><rect x="238.13" y="140.42" width="8.43" height="9.77" fill="#f57245"/><rect x="245.96" y="140.42" width="8.43" height="9.77" fill="#f67c4a"/><rect x="253.79" y="140.42" width="8.43" height="9.77" fill="#f8864f"/><rect x="261.62" y="140.42" width="8.43" height="9.77" fill="#f99153"/><rect x="269.44" y="140.42" width="8.43" height="9.77" fill="#fa9857"/><rect x="277.27" y="140.42" width="8.43" height="9.77" fill="#fba35c"/><rect x="285.10" y="140.42" width="8.43" height="9.77" fill="#fdad60"/><rect x="292.93" y="140.42" width="8.43" height="9.77" fill="#fdb365"/><rect x="300.76" y="140.42" width="8.43" height="9.77" fill="#fdb96a"/><rect x="308.58" y="140.42" width="8.43" height="9.77" fill="#fdbf6f"/><rect x="316.41" y="140.42" width="8.43" height="9.77" fill="#fdc372"/><rect x="324.24" y="140.42" width="8.43" height="9.77" fill="#fdc776"/><rect x="332.07" y="140.42" width="8.43" height="9.77" fill="#feca79"/><rect x="339.90" y="140.42" width="8.43" height="9.77" fill="#fece7c"/><rect x="347.72" y="140.42" width="8.43" height="9.77" fill="#fed481"/><rect x="355.55" y="140.42" width="8.43" height="9.77" fill="#feda86"/><rect x="363.38" y="140.42" width="8.43" height="9.77" fill="#fee18d"/><rect x="371.21" y="140.42" width="8.43" height="9.77" fill="#fee593"/><rect x="379.04" y="140.42" width="8.43" height="9.77" fill="#feea9b"/><rect x="386.86" y="140.42" width="8.43" height="9.77" fill="#feefa3"/><rect x="394.69" y="140.42" width="8.43" height="9.77" fill="#fff3ac"/><rect x="402.52" y="140.42" width="8.43" height="9.77" fill="#fffab6"/><rect x="410.35" y="140.42" width="8.43" height="9.77" fill="#fbfdba"/><rect x="418.18" y="140.42" width="8.43" height="9.77" fill="#f1f9ac"/><rect x="426.00" y="140.42" width="8.43" height="9.77" fill="#e3f399"/><rect x="433.83" y="140.42" width="8.43" height="9.77" fill="#d7ee8a"/><rect x="441.66" y="140.42" width="8.43" height="9.77" fill="#c7e77f"/><rect x="449.49" y="140.42" width="8.43" height="9.77" fill="#b5df74"/><rect x="457.32" y="140.42" width="8.43" height="9.77" fill="#a5d86a"/><rect x="465.14" y="140.42" width="8.43" height="9.77" fill="#93d168"/><rect x="472.97" y="140.42" width="8.43" height="9.77" fill="#84ca66"/>
<rect x="89.40" y="149.59" width="8.43" height="9.77" fill="#f47044"/><rect x="97.23" y="149.59" width="8.43" height="9.77" fill="#e54e35"/><rect x="105.06" y="149.59" width="8.43" height="9.77" fill="#d83128"/><rect x="112.88" y="149.59" width="8.43" height="9.77" fill="#c62027"/><rect x="120.71" y="149.59" width="8.43" height="9.77" fill="#bb1526"/><rect x="128.54" y="149.59" width="8.43" height="9.77" fill="#b50f26"/><rect x="136.37" y="149.59" width="8.43" height="9.77" fill="#b10b26"/><rect x="144.20" y="149.59" width="8.43" height="9.77" fill="#b30d26"/><rect x="152.02" y="149.59" width="8.43" height="9.77" fill="#b91326"/><rect x="159.85" y="149.59" width="8.43" height="9.77" fill="#be1827"/><rect x="167.68" y="149.59" width="8.43" height="9.77" fill="#c82227"/><rect x="175.51" y="149.59" width="8.43" height="9.77" fill="#d02927"/><rect x="183.34" y="149.59" width="8.43" height="9.77" fill="#d93429"/><rect x="191.16" y="149.59" width="8.43" height="9.77" fill="#dd3d2d"/><rect x="198.99" y="149.59" width="8.43" height="9.77" fill="#e24731"/><rect x="206.82" y="149.59" width="8.43" height="9.77" fill="#e75337"/><rect x="214.65" y="149.59" width="8.43" height="9.77" fill="#ec5c3b"/><rect x="222.48" y="149.59" width="8.43" height="9.77" fill="#f16640"/><rect x="230.30" y="149.59" width="8.43" height="9.77" fill="#f47044"/><rect x="238.13" y="149.59" width="8.43" height="9.77" fill="#f67c4a"/><rect x="245.96" y="149.59" width="8.43" height="9.77" fill="#f8864f"/><rect x="253.79" y="149.59" width="8.43" height="9.77" fill="#f99153"/><rect x="261.62" y="149.59" width="8.43" height="9.77" fill="#fa9b58"/><rect x="269.44" y="149.59" width="8.43" height="9.77" fill="#fca55d"/><rect x="277.27" y="149.59" width="8.43" height="9.77" fill="#fdaf62"/><rect x="285.10" y="149.59" width="8.43" height="9.77" fill="#fdb768"/><rect x="292.93" y="149.59" width="8.43" height="9.77" fill="#fdbd6d"/><rect x="300.76" y="149.59" width="8.43" height="9.77" fill="#fdc372"/><rect x="308.58" y="149.59" width="8.43" height="9.77" fill="#fdc776"/><rect x="316.41" y="149.59" width="8.43" height="9.77" fill="#feca79"/><rect x="324.24" y="149.59" width="8.43" height="9.77" fill="#fece7c"/><rect x="332.07" y="149.59" width="8.43" height="9.77" fill="#fed07e"/><rect x="339.90" y="149.59" width="8.43" height="9.77" fill="#fed481"/><rect x="347.72" y="149.59" width="8.43" height="9.77" fill="#fed884"/><rect x="355.55" y="149.59" width="8.43" height="9.77" fill="#fede89"/><rect x="363.38" y="149.59" width="8.43" height="9.77" fill="#fee491"/><rect x="371.21" y="149.59" width="8.43" height="9.77" fill="#fee797"/><rect x="379.04" y="149.59" width="8.43" height="9.77" fill="#feec9f"/><rect x="386.86" y="149.59" width="8.43" height="9.77" fill="#fff1a8"/><rect x="394.69" y="149.59" width="8.43" height="9.77" fill="#fff7b2"/><rect x="402.52" y="149.59" width="8.43" height="9.77" fill="#fffdbc"/><rect x="410.35" y="149.59" width="8.43" height="9.77" fill="#f5fbb2"/><rect x="418.18" y="149.59" width="8.43" height="9.77" fill="#e9f6a1"/><rect x="426.00" y="149.59" width="8.43" height="9.77" fill="#dcf08f"/><rect x="433.83" y="149.59" width="8.43" height="9.77" fill="#cbe982"/><rect x="441.66" y="149.59" width="8.43" height="9.77" fill="#b9e176"/><rect x="449.49" y="149.59" width="8.43" height="9.77" fill="#a9da6c"/><rect x="457.32" y="149.59" width="8.43" height="9.77" fill="#96d268"/><rect x="465.14" y="149.59" width="8.43" height="9.77" fill="#89cc67"/><rect x="472.97" y="149.59" width="8.43" height="9.77" fill="#7dc765"/>
<rect x="89.40" y="158.76" width="8.43" height="9.77" fill="#f7844e"/><rect x="97.23" y="158.76" width="8.43" height="9.77" fill="#ed5f3c"/><rect x="105.06" y="158.76" width="8.43" height="9.77" fill="#e0422f"/><rect x="112.88" y="158.76" width="8.43" height="9.77" fill="#d22b27"/><rect x="120.71" y="158.76" width="8.43" height="9.77" fill="#c62027"/><rect x="128.54" y="158.76" width="8.43" height="9.77" fill="#be1827"/><rect x="136.37" y="158.76" width="8.43" height="9.77" fill="#bd1726"/><rect x="144.20" y="158.76" width="8.43" height="9.77" fill="#be1827"/><rect x="152.02" y="158.76" width="8.43" height="9.77" fill="#c21c27"/><rect x="159.85" y="158.76" width="8.43" height="9.77" fill="#c82227"/><rect x="167.68" y="158.76" width="8.43" height="9.77" fill="#d02927"/><rect x="175.51" y="158.76" width="8.43" height="9.77" fill="#d93429"/><rect x="183.34" y="158.76" width="8.43" height="9.77" fill="#dd3d2d"/><rect x="191.16" y="158.76" width="8.43" height="9.77" fill="#e34933"/><rect x="198.99" y="158.76" width="8.43" height="9.77" fill="#e75337"/><rect x="206.82" y="158.76" width="8.43" height="9.77" fill="#ed5f3c"/><rect x="214.65" y="158.76" width="8.43" height="9.77" fill="#f26841"/><rect x="222.48" y="158.76" width="8.43" height="9.77" fill="#f57245"/><rect x="230.30" y="158.76" width="8.43" height="9.77" fill="#f67f4b"/><rect x="238.13" y="158.76" width="8.43" height="9.77" fill="#f88950"/><rect x="245.96" y="158.76" width="8.43" height="9.77" fill="#fa9656"/><rect x="253.79" y="158.76" width="8.43" height="9.77" fill="#fba05b"/><rect x="261.62" y="158.76" width="8.43" height="9.77" fill="#fcaa5f"/><rect x="269.44" y="158.76" width="8.43" height="9.77" fill="#fdb365"/><rect x="277.27" y="158.76" width="8.43" height="9.77" fill="#fdbb6c"/><rect x="285.10" y="158.76" width="8.43" height="9.77" fill="#fdc372"/><rect x="292.93" y="158.76" width="8.43" height="9.77" fill="#fec877"/><rect x="300.76" y="158.76" width="8.43" height="9.77" fill="#fece7c"/><rect x="308.58" y="158.76" width="8.43" height="9.77" fill="#fed481"/><rect x="316.41" y="158.76" width="8.43" height="9.77" fill="#fed683"/><rect x="324.24" y="158.76" width="8.43" height="9.77" fill="#fed884"/><rect x="332.07" y="158.76" width="8.43" height="9.77" fill="#feda86"/><rect x="339.90" y="158.76" width="8.43" height="9.77" fill="#fede89"/><rect x="347.72" y="158.76" width="8.43" height="9.77" fill="#fee18d"/><rect x="355.55" y="158.76" width="8.43" height="9.77" fill="#fee593"/><rect x="363.38" y="158.76" width="8.43" height="9.77" fill="#fee999"/><rect x="371.21" y="158.76" width="8.43" height="9.77" fill="#feeda1"/><rect x="379.04" y="158.76" width="8.43" height="9.77" fill="#fff3ac"/><rect x="386.86" y="158.76" width="8.43" height="9.77" fill="#fff8b4"/><rect x="394.69" y="158.76" width="8.43" height="9.77" fill="#fffdbc"/><rect x="402.52" y="158.76" width="8.43" height="9.77" fill="#f8fcb6"/><rect x="410.35" y="158.76" width="8.43" height="9.77" fill="#ecf7a6"/><rect x="418.18" y="158.76" width="8.43" height="9.77" fill="#dff293"/><rect x="426.00" y="158.76" width="8.43" height="9.77" fill="#cfeb85"/><rect x="433.83" y="158.76" width="8.43" height="9.77" fill="#bde379"/><rect x="441.66" y="158.76" width="8.43" height="9.77" fill="#addc6f"/><rect x="449.49" y="158.76" width="8.43" height="9.77" fill="#9bd469"/><rect x="457.32" y="158.76" width="8.43" height="9.77" fill="#8ccd67"/><rect x="465.14" y="158.76" width="8.43" height="9.77" fill="#82c966"/><rect x="472.97" y="158.76" width="8.43" height="9.77" fill="#78c565"/>
<rect x="89.40" y="167.92" width="8.43" height="9.77" fill="#fa9b58"/><rect x="97.23" y="167.92" width="8.43" height="9.77" fill="#f57547"/><rect x="105.06" y="167.92" width="8.43" height="9.77" fill="#e75337"/><rect x="112.88" y="167.92" width="8.43" height="9.77" fill="#dc3b2c"/><rect x="120.71" y="167.92" width="8.43" height="9.77" fill="#d22b27"/><rect x="128.54" y="167.92" width="8.43" height="9.77" fill="#cc2627"/><rect x="136.37" y="167.92" width="8.43" height="9.77" fill="#c82227"/><rect x="144.20" y="167.92" width="8.43" height="9.77" fill="#ca2427"/><rect x="152.02" y="167.92" width="8.43" height="9.77" fill="#ce2827"/><rect x="159.85" y="167.92" width="8.43" height="9.77" fill="#d42d27"/><rect x="167.68" y="167.92" width="8.43" height="9.77" fill="#da362a"/><rect x="175.51" y="167.92" width="8.43" height="9.77" fill="#de402e"/><rect x="183.34" y="167.92" width="8.43" height="9.77" fill="#e44c34"/><rect x="191.16" y="167.92" width="8.43" height="9.77" fill="#e95538"/><rect x="198.99" y="167.92" width="8.43" height="9.77" fill="#ee613e"/><rect x="206.82" y="167.92" width="8.43" height="9.77" fill="#f46d43"/><rect x="214.65" y="167.92" width="8.43" height="9.77" fill="#f57748"/><rect x="222.48" y="167.92" width="8.43" height="9.77" fill="#f7814c"/><rect x="230.30" y="167.92" width="8.43" height="9.77" fill="#f98e52"/><rect x="238.13" y="167.92" width="8.43" height="9.77" fill="#fa9b58"/><rect x="245.96" y="167.92" width="8.43" height="9.77" fill="#fca55d"/><rect x="253.79" y="167.92" width="8.43" height="9.77" fill="#fdb163"/><rect x="261.62" y="167.92" width="8.43" height="9.77" fill="#fdb96a"/><rect x="269.44" y="167.92" width="8.43" height="9.77" fill="#fdc171"/><rect x="277.27" y="167.92" width="8.43" height="9.77" fill="#fec877"/><rect x="285.10" y="167.92" width="8.43" height="9.77" fill="#fed07e"/><rect x="292.93" y="167.92" width="8.43" height="9.77" fill="#fed884"/><rect x="300.76" y="167.92" width="8.43" height="9.77" fill="#fede89"/><rect x="308.58" y="167.92" width="8.43" height="9.77" fill="#fee18d"/><rect x="316.41" y="167.92" width="8.43" height="9.77" fill="#fee28f"/><rect x="324.24" y="167.92" width="8.43" height="9.77" fill="#fee593"/><rect x="332.07" y="167.92" width="8.43" height="9.77" fill="#fee695"/><rect x="339.90" y="167.92" width="8.43" height="9.77" fill="#fee797"/><rect x="347.72" y="167.92" width="8.43" height="9.77" fill="#feea9b"/><rect x="355.55" y="167.92" width="8.43" height="9.77" fill="#feeda1"/><rect x="363.38" y="167.92" width="8.43" height="9.77" fill="#fff3ac"/><rect x="371.21" y="167.92" width="8.43" height="9.77" fill="#fff8b4"/><rect x="379.04" y="167.92" width="8.43" height="9.77" fill="#fffebe"/><rect x="386.86" y="167.92" width="8.43" height="9.77" fill="#fafdb8"/><rect x="394.69" y="167.92" width="8.43" height="9.77" fill="#f4fab0"/><rect x="402.52" y="167.92" width="8.43" height="9.77" fill="#ebf7a3"/><rect x="410.35" y="167.92" width="8.43" height="9.77" fill="#dff293"/><rect x="418.18" y="167.92" width="8.43" height="9.77" fill="#cdea83"/><rect x="426.00" y="167.92" width="8.43" height="9.77" fill="#bbe278"/><rect x="433.83" y="167.92" width="8.43" height="9.77" fill="#abdb6d"/><rect x="441.66" y="167.92" width="8.43" height="9.77" fill="#9bd469"/><rect x="449.49" y="167.92" width="8.43" height="9.77" fill="#8ecf67"/><rect x="457.32" y="167.92" width="8.43" height="9.77" fill="#84ca66"/><rect x="465.14" y="167.92" width="8.43" height="9.77" fill="#7dc765"/><rect x="472.97" y="167.92" width="8.43" height="9.77" fill="#73c264"/>
<rect x="89.40" y="177.09" width="8.43" height="9.77" fill="#fdb365"/><rect x="97.23" y="177.09" width="8.43" height="9.77" fill="#f88c51"/><rect x="105.06" y="177.09" width="8.43" height="9.77" fill="#f16640"/><rect x="112.88" y="177.09" width="8.43" height="9.77" fill="#e44c34"/><rect x="120.71" y="177.09" width="8.43" height="9.77" fill="#dc3b2c"/><rect x="128.54" y="177.09" width="8.43" height="9.77" fill="#d83128"/><rect x="136.37" y="177.09" width="8.43" height="9.77" fill="#d42d27"/><rect x="144.20" y="177.09" width="8.43" height="9.77" fill="#d62f27"/><rect x="152.02" y="177.09" width="8.43" height="9.77" fill="#d83128"/><rect x="159.85" y="177.09" width="8.43" height="9.77" fill="#db382b"/><rect x="167.68" y="177.09" width="8.43" height="9.77" fill="#e0422f"/><rect x="175.51" y="177.09" width="8.43" height="9.77" fill="#e44c34"/><rect x="183.34" y="177.09" width="8.43" height="9.77" fill="#ea5739"/><rect x="191.16" y="177.09" width="8.43" height="9.77" fill="#ef633f"/><rect x="198.99" y="177.09" width="8.43" height="9.77" fill="#f47044"/><rect x="206.82" y="177.09" width="8.43" height="9.77" fill="#f67c4a"/><rect x="214.65" y="177.09" width="8.43" height="9.77" fill="#f88950"/><rect x="222.48" y="177.09" width="8.43" height="9.77" fill="#fa9656"/><rect x="230.30" y="177.09" width="8.43" height="9.77" fill="#fba35c"/><rect x="238.13" y="177.09" width="8.43" height="9.77" fill="#fdaf62"/><rect x="245.96" y="177.09" width="8.43" height="9.77" fill="#fdb768"/><rect x="253.79" y="177.09" width="8.43" height="9.77" fill="#fdc171"/><rect x="261.62" y="177.09" width="8.43" height="9.77" fill="#fec877"/><rect x="269.44" y="177.09" width="8.43" height="9.77" fill="#fece7c"/><rect x="277.27" y="177.09" width="8.43" height="9.77" fill="#fed683"/><rect x="285.10" y="177.09" width="8.43" height="9.77" fill="#fede89"/><rect x="292.93" y="177.09" width="8.43" height="9.77" fill="#fee28f"/><rect x="300.76" y="177.09" width="8.43" height="9.77" fill="#fee797"/><rect x="308.58" y="177.09" width="8.43" height="9.77" fill="#feea9b"/><rect x="316.41" y="177.09" width="8.43" height="9.77" fill="#feec9f"/><rect x="324.24" y="177.09" width="8.43" height="9.77" fill="#feefa3"/><rect x="332.07" y="177.09" width="8.43" height="9.77" fill="#fff1a8"/><rect x="339.90" y="177.09" width="8.43" height="9.77" fill="#fff3ac"/><rect x="347.72" y="177.09" width="8.43" height="9.77" fill="#fff7b2"/><rect x="355.55" y="177.09" width="8.43" height="9.77" fill="#fffcba"/><rect x="363.38" y="177.09" width="8.43" height="9.77" fill="#fdfebc"/><rect x="371.21" y="177.09" width="8.43" height="9.77" fill="#f5fbb2"/><rect x="379.04" y="177.09" width="8.43" height="9.77" fill="#ecf7a6"/><rect x="386.86" y="177.09" width="8.43" height="9.77" fill="#e5f49b"/><rect x="394.69" y="177.09" width="8.43" height="9.77" fill="#ddf191"/><rect x="402.52" y="177.09" width="8.43" height="9.77" fill="#d3ec87"/><rect x="410.35" y="177.09" width="8.43" height="9.77" fill="#c1e57b"/><rect x="418.18" y="177.09" width="8.43" height="9.77" fill="#b1de71"/><rect x="426.00" y="177.09" width="8.43" height="9.77" fill="#a5d86a"/><rect x="433.83" y="177.09" width="8.43" height="9.77" fill="#96d268"/><rect x="441.66" y="177.09" width="8.43" height="9.77" fill="#87cb67"/><rect x="449.49" y="177.09" width="8.43" height="9.77" fill="#7dc765"/><rect x="457.32" y="177.09" width="8.43" height="9.77" fill="#75c465"/><rect x="465.14" y="177.09" width="8.43" height="9.77" fill="#70c164"/><rect x="472.97" y="177.09" width="8.43" height="9.77" fill="#69be63"/>
<rect x="89.40" y="186.25" width="8.43" height="9.77" fill="#fec877"/><rect x="97.23" y="186.25" width="8.43" height="9.77" fill="#fba05b"/><rect x="105.06" y="186.25" width="8.43" height="9.77" fill="#f67a49"/><rect x="112.88" y="186.25" width="8.43" height="9.77" fill="#ec5c3b"/><rect x="120.71" y="186.25" width="8.43" height="9.77" fill="#e34933"/><rect x="128.54" y="186.25" width="8.43" height="9.77" fill="#de402e"/><rect x="136.37" y="186.25" width="16.26" height="9.77" fill="#dc3b2c"/><rect x="152.02" y="186.25" width="8.43" height="9.77" fill="#dd3d2d"/><rect x="159.85" y="186.25" width="8.43" height="9.77" fill="#e14430"/><rect x="167.68" y="186.25" width="8.43" height="9.77" fill="#e54e35"/><rect x="175.51" y="186.25" width="8.43" height="9.77" fill="#eb5a3a"/><rect x="183.34" y="186.25" width="8.43" height="9.77" fill="#f16640"/><rect x="191.16" y="186.25" width="8.43" height="9.77" fill="#f57245"/><rect x="198.99" y="186.25" width="8.43" height="9.77" fill="#f7814c"/><rect x="206.82" y="186.25" width="8.43" height="9.77" fill="#f99153"/><rect x="214.65" y="186.25" width="8.43" height="9.77" fill="#fb9d59"/><rect x="222.48" y="186.25" width="8.43" height="9.77" fill="#fcaa5f"/><rect x="230.30" y="186.25" width="8.43" height="9.77" fill="#fdb567"/><rect x="238.13" y="186.25" width="8.43" height="9.77" fill="#fdbf6f"/><rect x="245.96" y="186.25" width="8.43" height="9.77" fill="#fec877"/><rect x="253.79" y="186.25" width="8.43" height="9.77" fill="#fed07e"/><rect x="261.62" y="186.25" width="8.43" height="9.77" fill="#fed884"/><rect x="269.44" y="186.25" width="8.43" height="9.77" fill="#fede89"/><rect x="277.27" y="186.25" width="8.43" height="9.77" fill="#fee28f"/><rect x="285.10" y="186.25" width="8.43" height="9.77" fill="#fee695"/><rect x="292.93" y="186.25" width="8.43" height="9.77" fill="#feeb9d"/><rect x="300.76" y="186.25" width="8.43" height="9.77" fill="#feefa3"/><rect x="308.58" y="186.25" width="8.43" height="9.77" fill="#fff2aa"/><rect x="316.41" y="186.25" width="8.43" height="9.77" fill="#fff5ae"/><rect x="324.24" y="186.25" width="8.43" height="9.77" fill="#fff8b4"/><rect x="332.07" y="186.25" width="8.43" height="9.77" fill="#fffdbc"/><rect x="339.90" y="186.25" width="8.43" height="9.77" fill="#fdfebc"/><rect x="347.72" y="186.25" width="8.43" height="9.77" fill="#f7fcb4"/><rect x="355.55" y="186.25" width="8.43" height="9.77" fill="#eff8aa"/><rect x="363.38" y="186.25" width="8.43" height="9.77" fill="#e8f59f"/><rect x="371.21" y="186.25" width="8.43" height="9.77" fill="#e0f295"/><rect x="379.04" y="186.25" width="8.43" height="9.77" fill="#d5ed88"/><rect x="386.86" y="186.25" width="8.43" height="9.77" fill="#c9e881"/><rect x="394.69" y="186.25" width="8.43" height="9.77" fill="#bde379"/><rect x="402.52" y="186.25" width="8.43" height="9.77" fill="#b3df72"/><rect x="410.35" y="186.25" width="8.43" height="9.77" fill="#a9da6c"/><rect x="418.18" y="186.25" width="8.43" height="9.77" fill="#9bd469"/><rect x="426.00" y="186.25" width="8.43" height="9.77" fill="#91d068"/><rect x="433.83" y="186.25" width="8.43" height="9.77" fill="#7fc866"/><rect x="441.66" y="186.25" width="8.43" height="9.77" fill="#6ec064"/><rect x="449.49" y="186.25" width="8.43" height="9.77" fill="#60ba62"/><rect x="457.32" y="186.25" width="8.43" height="9.77" fill="#5ab760"/><rect x="465.14" y="186.25" width="8.43" height="9.77" fill="#57b65f"/><rect x="472.97" y="186.25" width="8.43" height="9.77" fill="#51b35e"/>
<rect x="89.40" y="195.42" width="8.43" height="9.77" fill="#fede89"/><rect x="97.23" y="195.42" width="8.43" height="9.77" fill="#fdb567"/><rect x="105.06" y="195.42" width="8.43" height="9.77" fill="#f88c51"/><rect x="112.88" y="195.42" width="8.43" height="9.77" fill="#f46d43"/><rect x="120.71" y="195.42" width="8.43" height="9.77" fill="#ea5739"/><rect x="128.54" y="195.42" width="8.43" height="9.77" fill="#e44c34"/><rect x="136.37" y="195.42" width="16.26" height="9.77" fill="#e24731"/><rect x="152.02" y="195.42" width="8.43" height="9.77" fill="#e34933"/><rect x="159.85" y="195.42" width="8.43" height="9.77" fill="#e65036"/><rect x="167.68" y="195.42" width="8.43" height="9.77" fill="#eb5a3a"/><rect x="175.51" y="195.42" width="8.43" height="9.77" fill="#f16640"/><rect x="183.34" y="195.42" width="8.43" height="9.77" fill="#f57245"/><rect x="191.16" y="195.42" width="8.43" height="9.77" fill="#f7814c"/><rect x="198.99" y="195.42" width="8.43" height="9.77" fill="#f99153"/><rect x="206.82" y="195.42" width="8.43" height="9.77" fill="#fba05b"/><rect x="214.65" y="195.42" width="8.43" height="9.77" fill="#fdaf62"/><rect x="222.48" y="195.42" width="8.43" height="9.77" fill="#fdbb6c"/><rect x="230.30" y="195.42" width="8.43" height="9.77" fill="#fdc574"/><rect x="238.13" y="195.42" width="8.43" height="9.77" fill="#fed07e"/><rect x="245.96" y="195.42" width="8.43" height="9.77" fill="#fed884"/><rect x="253.79" y="195.42" width="8.43" height="9.77" fill="#fee08b"/><rect x="261.62" y="195.42" width="8.43" height="9.77" fill="#fee491"/><rect x="269.44" y="195.42" width="8.43" height="9.77" fill="#fee797"/><rect x="277.27" y="195.42" width="8.43" height="9.77" fill="#feeb9d"/><rect x="285.10" y="195.42" width="8.43" height="9.77" fill="#feefa3"/><rect x="292.93" y="195.42" width="8.43" height="9.77" fill="#fff2aa"/><rect x="300.76" y="195.42" width="8.43" height="9.77" fill="#fff6b0"/><rect x="308.58" y="195.42" width="8.43" height="9.77" fill="#fffbb8"/><rect x="316.41" y="195.42" width="8.43" height="9.77" fill="#fffebe"/><rect x="324.24" y="195.42" width="8.43" height="9.77" fill="#fafdb8"/><rect x="332.07" y="195.42" width="8.43" height="9.77" fill="#f2faae"/><rect x="339.90" y="195.42" width="8.43" height="9.77" fill="#ebf7a3"/><rect x="347.72" y="195.42" width="8.43" height="9.77" fill="#e2f397"/><rect x="355.55" y="195.42" width="8.43" height="9.77" fill="#d9ef8b"/><rect x="363.38" y="195.42" width="8.43" height="9.77" fill="#cdea83"/><rect x="371.21" y="195.42" width="8.43" height="9.77" fill="#c3e67d"/><rect x="379.04" y="195.42" width="8.43" height="9.77" fill="#b7e075"/><rect x="386.86" y="195.42" width="8.43" height="9.77" fill="#addc6f"/><rect x="394.69" y="195.42" width="8.43" height="9.77" fill="#a5d86a"/><rect x="402.52" y="195.42" width="8.43" height="9.77" fill="#9dd569"/><rect x="410.35" y="195.42" width="8.43" height="9.77" fill="#98d368"/><rect x="418.18" y="195.42" width="8.43" height="9.77" fill="#8ccd67"/><rect x="426.00" y="195.42" width="8.43" height="9.77" fill="#7ac665"/><rect x="433.83" y="195.42" width="8.43" height="9.77" fill="#60ba62"/><rect x="441.66" y="195.42" width="8.43" height="9.77" fill="#3faa59"/><rect x="449.49" y="195.42" width="8.43" height="9.77" fill="#279f53"/><rect x="457.32" y="195.42" width="8.43" height="9.77" fill="#219c52"/><rect x="465.14" y="195.42" width="8.43" height="9.77" fill="#1b9950"/><rect x="472.97" y="195.42" width="8.43" height="9.77" fill="#17934e"/>
<rect x="89.40" y="204.59" width="8.43" height="9.77" fill="#feea9b"/><rect x="97.23" y="204.59" width="8.43" height="9.77" fill="#fec877"/><rect x="105.06" y="204.59" width="8.43" height="9.77" fill="#fba35c"/><rect x="112.88" y="204.59" width="8.43" height="9.77" fill="#f67f4b"/><rect x="120.71" y="204.59" width="8.43" height="9.77" fill="#f26841"/><rect x="128.54" y="204.59" width="8.43" height="9.77" fill="#eb5a3a"/><rect x="136.37" y="204.59" width="16.26" height="9.77" fill="#e75337"/><rect x="152.02" y="204.59" width="8.43" height="9.77" fill="#ea5739"/><rect x="159.85" y="204.59" width="8.43" height="9.77" fill="#ed5f3c"/><rect x="167.68" y="204.59" width="8.43" height="9.77" fill="#f26841"/><rect x="175.51" y="204.59" width="8.43" height="9.77" fill="#f57547"/><rect x="183.34" y="204.59" width="8.43" height="9.77" fill="#f7814c"/><rect x="191.16" y="204.59" width="8.43" height="9.77" fill="#f99153"/><rect x="198.99" y="204.59" width="8.43" height="9.77" fill="#fba05b"/><rect x="206.82" y="204.59" width="8.43" height="9.77" fill="#fdb163"/><rect x="214.65" y="204.59" width="8.43" height="9.77" fill="#fdbd6d"/><rect x="222.48" y="204.59" width="8.43" height="9.77" fill="#fec877"/><rect x="230.30" y="204.59" width="8.43" height="9.77" fill="#fed481"/><rect x="238.13" y="204.59" width="8.43" height="9.77" fill="#fede89"/><rect x="245.96" y="204.59" width="8.43" height="9.77" fill="#fee593"/><rect x="253.79" y="204.59" width="8.43" height="9.77" fill="#fee999"/><rect x="261.62" y="204.59" width="8.43" height="9.77" fill="#feec9f"/><rect x="269.44" y="204.59" width="8.43" height="9.77" fill="#feefa3"/><rect x="277.27" y="204.59" width="8.43" height="9.77" fill="#fff2aa"/><rect x="285.10" y="204.59" width="8.43" height="9.77" fill="#fff6b0"/><rect x="292.93" y="204.59" width="8.43" height="9.77" fill="#fffbb8"/><rect x="300.76" y="204.59" width="8.43" height="9.77" fill="#feffbe"/><rect x="308.58" y="204.59" width="8.43" height="9.77" fill="#fafdb8"/><rect x="316.41" y="204.59" width="8.43" height="9.77" fill="#f4fab0"/><rect x="324.24" y="204.59" width="8.43" height="9.77" fill="#ebf7a3"/><rect x="332.07" y="204.59" width="8.43" height="9.77" fill="#e0f295"/><rect x="339.90" y="204.59" width="8.43" height="9.77" fill="#d5ed88"/><rect x="347.72" y="204.59" width="8.43" height="9.77" fill="#c9e881"/><rect x="355.55" y="204.59" width="8.43" height="9.77" fill="#bde379"/><rect x="363.38" y="204.59" width="8.43" height="9.77" fill="#b3df72"/><rect x="371.21" y="204.59" width="8.43" height="9.77" fill="#abdb6d"/><rect x="379.04" y="204.59" width="8.43" height="9.77" fill="#a5d86a"/><rect x="386.86" y="204.59" width="8.43" height="9.77" fill="#a0d669"/><rect x="394.69" y="204.59" width="8.43" height="9.77" fill="#9bd469"/><rect x="402.52" y="204.59" width="8.43" height="9.77" fill="#96d268"/><rect x="410.35" y="204.59" width="8.43" height="9.77" fill="#8ecf67"/><rect x="418.18" y="204.59" width="8.43" height="9.77" fill="#7ac665"/><rect x="426.00" y="204.59" width="8.43" height="9.77" fill="#5ab760"/><rect x="433.83" y="204.59" width="8.43" height="9.77" fill="#30a356"/><rect x="441.66" y="204.59" width="8.43" height="9.77" fill="#118848"/><rect x="449.49" y="204.59" width="8.43" height="9.77" fill="#036e3a"/>
<rect x="89.40" y="213.75" width="8.43" height="9.77" fill="#fff7b2"/><rect x="97.23" y="213.75" width="8.43" height="9.77" fill="#fede89"/><rect x="105.06" y="213.75" width="8.43" height="9.77" fill="#fdb96a"/><rect x="112.88" y="213.75" width="8.43" height="9.77" fill="#fa9656"/><rect x="120.71" y="213.75" width="8.43" height="9.77" fill="#f67c4a"/><rect x="128.54" y="213.75" width="8.43" height="9.77" fill="#f36b42"/><rect x="136.37" y="213.75" width="8.43" height="9.77" fill="#ef633f"/><rect x="144.20" y="213.75" width="8.43" height="9.77" fill="#ee613e"/><rect x="152.02" y="213.75" width="8.43" height="9.77" fill="#ef633f"/><rect x="159.85" y="213.75" width="8.43" height="9.77" fill="#f36b42"/><rect x="167.68" y="213.75" width="8.43" height="9.77" fill="#f57547"/><rect x="175.51" y="213.75" width="8.43" height="9.77" fill="#f7814c"/><rect x="183.34" y="213.75" width="8.43" height="9.77" fill="#f98e52"/><rect x="191.16" y="213.75" width="8.43" height="9.77" fill="#fba05b"/><rect x="198.99" y="213.75" width="8.43" height="9.77" fill="#fdaf62"/><rect x="206.82" y="213.75" width="8.43" height="9.77" fill="#fdbb6c"/><rect x="214.65" y="213.75" width="8.43" height="9.77" fill="#fec877"/><rect x="222.48" y="213.75" width="8.43" height="9.77" fill="#fed481"/><rect x="230.30" y="213.75" width="8.43" height="9.77" fill="#fee08b"/><rect x="238.13" y="213.75" width="8.43" height="9.77" fill="#fee695"/><rect x="245.96" y="213.75" width="8.43" height="9.77" fill="#feeb9d"/><rect x="253.79" y="213.75" width="8.43" height="9.77" fill="#feefa3"/><rect x="261.62" y="213.75" width="8.43" height="9.77" fill="#fff2aa"/><rect x="269.44" y="213.75" width="8.43" height="9.77" fill="#fff6b0"/><rect x="277.27" y="213.75" width="8.43" height="9.77" fill="#fffab6"/><rect x="285.10" y="213.75" width="8.43" height="9.77" fill="#fffebe"/><rect x="292.93" y="213.75" width="8.43" height="9.77" fill="#f8fcb6"/><rect x="300.76" y="213.75" width="8.43" height="9.77" fill="#f2faae"/><rect x="308.58" y="213.75" width="8.43" height="9.77" fill="#ebf7a3"/><rect x="316.41" y="213.75" width="8.43" height="9.77" fill="#e5f49b"/><rect x="324.24" y="213.75" width="8.43" height="9.77" fill="#dcf08f"/><rect x="332.07" y="213.75" width="8.43" height="9.77" fill="#cbe982"/><rect x="339.90" y="213.75" width="8.43" height="9.77" fill="#bbe278"/><rect x="347.72" y="213.75" width="8.43" height="9.77" fill="#b1de71"/><rect x="355.55" y="213.75" width="8.43" height="9.77" fill="#a9da6c"/><rect x="363.38" y="213.75" width="8.43" height="9.77" fill="#a2d76a"/><rect x="371.21" y="213.75" width="8.43" height="9.77" fill="#a0d669"/><rect x="379.04" y="213.75" width="16.26" height="9.77" fill="#9dd569"/><rect x="394.69" y="213.75" width="8.43" height="9.77" fill="#9bd469"/><rect x="402.52" y="213.75" width="8.43" height="9.77" fill="#93d168"/><rect x="410.35" y="213.75" width="8.43" height="9.77" fill="#82c966"/><rect x="418.18" y="213.75" width="8.43" height="9.77" fill="#63bc62"/><rect x="426.00" y="213.75" width="8.43" height="9.77" fill="#30a356"/><rect x="433.83" y="213.75" width="8.43" height="9.77" fill="#0d8044"/>
<rect x="89.40" y="222.92" width="8.43" height="9.77" fill="#f8fcb6"/><rect x="97.23" y="222.92" width="8.43" height="9.77" fill="#feeb9d"/><rect x="105.06" y="222.92" width="8.43" height="9.77" fill="#fece7c"/><rect x="112.88" y="222.92" width="8.43" height="9.77" fill="#fdaf62"/><rect x="120.71" y="222.92" width="8.43" height="9.77" fill="#f99153"/><rect x="128.54" y="222.92" width="8.43" height="9.77" fill="#f67c4a"/><rect x="136.37" y="222.92" width="8.43" height="9.77" fill="#f57245"/><rect x="144.20" y="222.92" width="8.43" height="9.77" fill="#f47044"/><rect x="152.02" y="222.92" width="8.43" height="9.77" fill="#f57245"/><rect x="159.85" y="222.92" width="8.43" height="9.77" fill="#f57748"/><rect x="167.68" y="222.92" width="8.43" height="9.77" fill="#f7814c"/><rect x="175.51" y="222.92" width="8.43" height="9.77" fill="#f98e52"/><rect x="183.34" y="222.92" width="8.43" height="9.77" fill="#fa9b58"/><rect x="191.16" y="222.92" width="8.43" height="9.77" fill="#fcaa5f"/><rect x="198.99" y="222.92" width="8.43" height="9.77" fill="#fdb96a"/><rect x="206.82" y="222.92" width="8.43" height="9.77" fill="#fdc574"/><rect x="214.65" y="222.92" width="8.43" height="9.77" fill="#fed27f"/><rect x="222.48" y="222.92" width="8.43" height="9.77" fill="#fede89"/><rect x="230.30" y="222.92" width="8.43" height="9.77" fill="#fee695"/><rect x="238.13" y="222.92" width="8.43" height="9.77" fill="#feeb9d"/><rect x="245.96" y="222.92" width="8.43" height="9.77" fill="#fff0a6"/><rect x="253.79" y="222.92" width="8.43" height="9.77" fill="#fff3ac"/><rect x="261.62" y="222.92" width="8.43" height="9.77" fill="#fff7b2"/><rect x="269.44" y="222.92" width="8.43" height="9.77" fill="#fffbb8"/><rect x="277.27" y="222.92" width="8.43" height="9.77" fill="#fdfebc"/><rect x="285.10" y="222.92" width="8.43" height="9.77" fill="#f4fab0"/><rect x="292.93" y="222.92" width="8.43" height="9.77" fill="#ebf7a3"/><rect x="300.76" y="222.92" width="8.43" height="9.77" fill="#e2f397"/><rect x="308.58" y="222.92" width="8.43" height="9.77" fill="#daf08d"/><rect x="316.41" y="222.92" width="8.43" height="9.77" fill="#cfeb85"/><rect x="324.24" y="222.92" width="8.43" height="9.77" fill="#c3e67d"/><rect x="332.07" y="222.92" width="8.43" height="9.77" fill="#b5df74"/><rect x="339.90" y="222.92" width="8.43" height="9.77" fill="#a9da6c"/><rect x="347.72" y="222.92" width="8.43" height="9.77" fill="#a2d76a"/><rect x="355.55" y="222.92" width="8.43" height="9.77" fill="#a0d669"/><rect x="363.38" y="222.92" width="24.08" height="9.77" fill="#9dd569"/><rect x="386.86" y="222.92" width="8.43" height="9.77" fill="#9bd469"/><rect x="394.69" y="222.92" width="8.43" height="9.77" fill="#93d168"/><rect x="402.52" y="222.92" width="8.43" height="9.77" fill="#87cb67"/><rect x="410.35" y="222.92" width="8.43" height="9.77" fill="#6bbf64"/><rect x="418.18" y="222.92" width="8.43" height="9.77" fill="#3faa59"/><rect x="426.00" y="222.92" width="8.43" height="9.77" fill="#118848"/>
<rect x="89.40" y="232.08" width="8.43" height="9.77" fill="#e9f6a1"/><rect x="97.23" y="232.08" width="8.43" height="9.77" fill="#fff8b4"/><rect x="105.06" y="232.08" width="8.43" height="9.77" fill="#fee18d"/><rect x="112.88" y="232.08" width="8.43" height="9.77" fill="#fdc372"/><rect x="120.71" y="232.08" width="8.43" height="9.77" fill="#fca85e"/><rect x="128.54" y="232.08" width="8.43" height="9.77" fill="#f99153"/><rect x="136.37" y="232.08" width="8.43" height="9.77" fill="#f7844e"/><rect x="144.20" y="232.08" width="8.43" height="9.77" fill="#f67f4b"/><rect x="152.02" y="232.08" width="8.43" height="9.77" fill="#f7814c"/><rect x="159.85" y="232.08" width="8.43" height="9.77" fill="#f8864f"/><rect x="167.68" y="232.08" width="8.43" height="9.77" fill="#f98e52"/><rect x="175.51" y="232.08" width="8.43" height="9.77" fill="#fa9857"/><rect x="183.34" y="232.08" width="8.43" height="9.77" fill="#fca85e"/><rect x="191.16" y="232.08" width="8.43" height="9.77" fill="#fdb567"/><rect x="198.99" y="232.08" width="8.43" height="9.77" fill="#fdc171"/><rect x="206.82" y="232.08" width="8.43" height="9.77" fill="#fece7c"/><rect x="214.65" y="232.08" width="8.43" height="9.77" fill="#feda86"/><rect x="222.48" y="232.08" width="8.43" height="9.77" fill="#fee491"/><rect x="230.30" y="232.08" width="8.43" height="9.77" fill="#feea9b"/><rect x="238.13" y="232.08" width="8.43" height="9.77" fill="#fff0a6"/><rect x="245.96" y="232.08" width="8.43" height="9.77" fill="#fff3ac"/><rect x="253.79" y="232.08" width="8.43" height="9.77" fill="#fff7b2"/><rect x="261.62" y="232.08" width="8.43" height="9.77" fill="#fffcba"/><rect x="269.44" y="232.08" width="8.43" height="9.77" fill="#fdfebc"/><rect x="277.27" y="232.08" width="8.43" height="9.77" fill="#f4fab0"/><rect x="285.10" y="232.08" width="8.43" height="9.77" fill="#e8f59f"/><rect x="292.93" y="232.08" width="8.43" height="9.77" fill="#daf08d"/><rect x="300.76" y="232.08" width="8.43" height="9.77" fill="#cdea83"/><rect x="308.58" y="232.08" width="8.43" height="9.77" fill="#c1e57b"/><rect x="316.41" y="232.08" width="8.43" height="9.77" fill="#b5df74"/><rect x="324.24" y="232.08" width="8.43" height="9.77" fill="#abdb6d"/><rect x="332.07" y="232.08" width="8.43" height="9.77" fill="#a2d76a"/><rect x="339.90" y="232.08" width="8.43" height="9.77" fill="#9dd569"/><rect x="347.72" y="232.08" width="8.43" height="9.77" fill="#98d368"/><rect x="355.55" y="232.08" width="8.43" height="9.77" fill="#96d268"/><rect x="363.38" y="232.08" width="16.26" height="9.77" fill="#93d168"/><rect x="379.04" y="232.08" width="8.43" height="9.77" fill="#91d068"/><rect x="386.86" y="232.08" width="8.43" height="9.77" fill="#8ccd67"/><rect x="394.69" y="232.08" width="8.43" height="9.77" fill="#7fc866"/><rect x="402.52" y="232.08" width="8.43" height="9.77" fill="#6bbf64"/><rect x="410.35" y="232.08" width="8.43" height="9.77" fill="#45ad5b"/><rect x="418.18" y="232.08" width="8.43" height="9.77" fill="#15904c"/>
<rect x="89.40" y="241.25" width="8.43" height="9.77" fill="#d9ef8b"/><rect x="97.23" y="241.25" width="8.43" height="9.77" fill="#f8fcb6"/><rect x="105.06" y="241.25" width="8.43" height="9.77" fill="#feeda1"/><rect x="112.88" y="241.25" width="8.43" height="9.77" fill="#fed481"/><rect x="120.71" y="241.25" width="8.43" height="9.77" fill="#fdb96a"/><rect x="128.54" y="241.25" width="8.43" height="9.77" fill="#fba35c"/><rect x="136.37" y="241.25" width="8.43" height="9.77" fill="#f99355"/><rect x="144.20" y="241.25" width="16.26" height="9.77" fill="#f98e52"/><rect x="159.85" y="241.25" width="8.43" height="9.77" fill="#f99153"/><rect x="167.68" y="241.25" width="8.43" height="9.77" fill="#fa9857"/><rect x="175.51" y="241.25" width="8.43" height="9.77" fill="#fba35c"/><rect x="183.34" y="241.25" width="8.43" height="9.77" fill="#fdaf62"/><rect x="191.16" y="241.25" width="8.43" height="9.77" fill="#fdbb6c"/><rect x="198.99" y="241.25" width="8.43" height="9.77" fill="#fec877"/><rect x="206.82" y="241.25" width="8.43" height="9.77" fill="#fed481"/><rect x="214.65" y="241.25" width="8.43" height="9.77" fill="#fee18d"/><rect x="222.48" y="241.25" width="8.43" height="9.77" fill="#fee797"/><rect x="230.30" y="241.25" width="8.43" height="9.77" fill="#feeda1"/><rect x="238.13" y="241.25" width="8.43" height="9.77" fill="#fff3ac"/><rect x="245.96" y="241.25" width="8.43" height="9.77" fill="#fff8b4"/><rect x="253.79" y="241.25" width="8.43" height="9.77" fill="#fffcba"/><rect x="261.62" y="241.25" width="8.43" height="9.77" fill="#fbfdba"/><rect x="269.44" y="241.25" width="8.43" height="9.77" fill="#f4fab0"/><rect x="277.27" y="241.25" width="8.43" height="9.77" fill="#e9f6a1"/><rect x="285.10" y="241.25" width="8.43" height="9.77" fill="#daf08d"/><rect x="292.93" y="241.25" width="8.43" height="9.77" fill="#c3e67d"/><rect x="300.76" y="241.25" width="8.43" height="9.77" fill="#b5df74"/><rect x="308.58" y="241.25" width="8.43" height="9.77" fill="#abdb6d"/><rect x="316.41" y="241.25" width="8.43" height="9.77" fill="#a0d669"/><rect x="324.24" y="241.25" width="8.43" height="9.77" fill="#93d168"/><rect x="332.07" y="241.25" width="8.43" height="9.77" fill="#8ccd67"/><rect x="339.90" y="241.25" width="8.43" height="9.77" fill="#84ca66"/><rect x="347.72" y="241.25" width="8.43" height="9.77" fill="#7dc765"/><rect x="355.55" y="241.25" width="8.43" height="9.77" fill="#78c565"/><rect x="363.38" y="241.25" width="8.43" height="9.77" fill="#75c465"/><rect x="371.21" y="241.25" width="8.43" height="9.77" fill="#73c264"/><rect x="379.04" y="241.25" width="8.43" height="9.77" fill="#70c164"/><rect x="386.86" y="241.25" width="8.43" height="9.77" fill="#6bbf64"/><rect x="394.69" y="241.25" width="8.43" height="9.77" fill="#57b65f"/><rect x="402.52" y="241.25" width="8.43" height="9.77" fill="#36a657"/><rect x="410.35" y="241.25" width="8.43" height="9.77" fill="#148e4b"/>
<rect x="89.40" y="250.42" width="8.43" height="9.77" fill="#c1e57b"/><rect x="97.23" y="250.42" width="8.43" height="9.77" fill="#e8f59f"/><rect x="105.06" y="250.42" width="8.43" height="9.77" fill="#fffab6"/><rect x="112.88" y="250.42" width="8.43" height="9.77" fill="#fee491"/><rect x="120.71" y="250.42" width="8.43" height="9.77" fill="#fec877"/><rect x="128.54" y="250.42" width="8.43" height="9.77" fill="#fdb365"/><rect x="136.37" y="250.42" width="8.43" height="9.77" fill="#fba35c"/><rect x="144.20" y="250.42" width="8.43" height="9.77" fill="#fa9b58"/><rect x="152.02" y="250.42" width="8.43" height="9.77" fill="#fa9857"/><rect x="159.85" y="250.42" width="8.43" height="9.77" fill="#fa9b58"/><rect x="167.68" y="250.42" width="8.43" height="9.77" fill="#fba35c"/><rect x="175.51" y="250.42" width="8.43" height="9.77" fill="#fcaa5f"/><rect x="183.34" y="250.42" width="8.43" height="9.77" fill="#fdb768"/><rect x="191.16" y="250.42" width="8.43" height="9.77" fill="#fdc171"/><rect x="198.99" y="250.42" width="8.43" height="9.77" fill="#fece7c"/><rect x="206.82" y="250.42" width="8.43" height="9.77" fill="#feda86"/><rect x="214.65" y="250.42" width="8.43" height="9.77" fill="#fee593"/><rect x="222.48" y="250.42" width="8.43" height="9.77" fill="#feec9f"/><rect x="230.30" y="250.42" width="8.43" height="9.77" fill="#fff2aa"/><rect x="238.13" y="250.42" width="8.43" height="9.77" fill="#fff8b4"/><rect x="245.96" y="250.42" width="8.43" height="9.77" fill="#fffdbc"/><rect x="253.79" y="250.42" width="8.43" height="9.77" fill="#fafdb8"/><rect x="261.62" y="250.42" width="8.43" height="9.77" fill="#f2faae"/><rect x="269.44" y="250.42" width="8.43" height="9.77" fill="#e8f59f"/><rect x="277.27" y="250.42" width="8.43" height="9.77" fill="#daf08d"/><rect x="285.10" y="250.42" width="8.43" height="9.77" fill="#c5e67e"/><rect x="292.93" y="250.42" width="8.43" height="9.77" fill="#afdd70"/><rect x="300.76" y="250.42" width="8.43" height="9.77" fill="#a2d76a"/><rect x="308.58" y="250.42" width="8.43" height="9.77" fill="#9dd569"/><rect x="316.41" y="250.42" width="8.43" height="9.77" fill="#91d068"/><rect x="324.24" y="250.42" width="8.43" height="9.77" fill="#7fc866"/><rect x="332.07" y="250.42" width="8.43" height="9.77" fill="#6bbf64"/><rect x="339.90" y="250.42" width="8.43" height="9.77" fill="#51b35e"/><rect x="347.72" y="250.42" width="8.43" height="9.77" fill="#3faa59"/><rect x="355.55" y="250.42" width="16.26" height="9.77" fill="#36a657"/><rect x="371.21" y="250.42" width="8.43" height="9.77" fill="#33a456"/><rect x="379.04" y="250.42" width="8.43" height="9.77" fill="#30a356"/><rect x="386.86" y="250.42" width="8.43" height="9.77" fill="#2aa054"/><rect x="394.69" y="250.42" width="8.43" height="9.77" fill="#17934e"/><rect x="402.52" y="250.42" width="8.43" height="9.77" fill="#0a7b41"/>
<rect x="89.40" y="259.58" width="8.43" height="9.77" fill="#a7d96b"/><rect x="97.23" y="259.58" width="8.43" height="9.77" fill="#d5ed88"/><rect x="105.06" y="259.58" width="8.43" height="9.77" fill="#f5fbb2"/><rect x="112.88" y="259.58" width="8.43" height="9.77" fill="#feefa3"/><rect x="120.71" y="259.58" width="8.43" height="9.77" fill="#fed884"/><rect x="128.54" y="259.58" width="8.43" height="9.77" fill="#fdbf6f"/><rect x="136.37" y="259.58" width="8.43" height="9.77" fill="#fdaf62"/><rect x="144.20" y="259.58" width="8.43" height="9.77" fill="#fca55d"/><rect x="152.02" y="259.58" width="8.43" height="9.77" fill="#fba05b"/><rect x="159.85" y="259.58" width="8.43" height="9.77" fill="#fba35c"/><rect x="167.68" y="259.58" width="8.43" height="9.77" fill="#fcaa5f"/><rect x="175.51" y="259.58" width="8.43" height="9.77" fill="#fdb365"/><rect x="183.34" y="259.58" width="8.43" height="9.77" fill="#fdbd6d"/><rect x="191.16" y="259.58" width="8.43" height="9.77" fill="#fec877"/><rect x="198.99" y="259.58" width="8.43" height="9.77" fill="#fed481"/><rect x="206.82" y="259.58" width="8.43" height="9.77" fill="#fee08b"/><rect x="214.65" y="259.58" width="8.43" height="9.77" fill="#fee999"/><rect x="222.48" y="259.58" width="8.43" height="9.77" fill="#fff0a6"/><rect x="230.30" y="259.58" width="8.43" height="9.77" fill="#fff7b2"/><rect x="238.13" y="259.58" width="8.43" height="9.77" fill="#fffdbc"/><rect x="245.96" y="259.58" width="8.43" height="9.77" fill="#f8fcb6"/><rect x="253.79" y="259.58" width="8.43" height="9.77" fill="#eff8aa"/><rect x="261.62" y="259.58" width="8.43" height="9.77" fill="#e6f59d"/><rect x="269.44" y="259.58" width="8.43" height="9.77" fill="#d9ef8b"/><rect x="277.27" y="259.58" width="8.43" height="9.77" fill="#c3e67d"/><rect x="285.10" y="259.58" width="8.43" height="9.77" fill="#b1de71"/><rect x="292.93" y="259.58" width="8.43" height="9.77" fill="#a5d86a"/><rect x="300.76" y="259.58" width="8.43" height="9.77" fill="#9bd469"/><rect x="308.58" y="259.58" width="8.43" height="9.77" fill="#96d268"/><rect x="316.41" y="259.58" width="8.43" height="9.77" fill="#84ca66"/><rect x="324.24" y="259.58" width="8.43" height="9.77" fill="#69be63"/><rect x="332.07" y="259.58" width="8.43" height="9.77" fill="#3ca959"/><rect x="339.90" y="259.58" width="8.43" height="9.77" fill="#15904c"/><rect x="347.72" y="259.58" width="8.43" height="9.77" fill="#0a7b41"/><rect x="355.55" y="259.58" width="8.43" height="9.77" fill="#05713c"/><rect x="363.38" y="259.58" width="16.26" height="9.77" fill="#036e3a"/><rect x="379.04" y="259.58" width="8.43" height="9.77" fill="#026c39"/>
<rect x="89.40" y="268.75" width="8.43" height="9.77" fill="#87cb67"/><rect x="97.23" y="268.75" width="8.43" height="9.77" fill="#bde379"/><rect x="105.06" y="268.75" width="8.43" height="9.77" fill="#e3f399"/><rect x="112.88" y="268.75" width="8.43" height="9.77" fill="#fffcba"/><rect x="120.71" y="268.75" width="8.43" height="9.77" fill="#fee593"/><rect x="128.54" y="268.75" width="8.43" height="9.77" fill="#feca79"/><rect x="136.37" y="268.75" width="8.43" height="9.77" fill="#fdb96a"/><rect x="144.20" y="268.75" width="8.43" height="9.77" fill="#fdaf62"/><rect x="152.02" y="268.75" width="8.43" height="9.77" fill="#fcaa5f"/><rect x="159.85" y="268.75" width="8.43" height="9.77" fill="#fdad60"/><rect x="167.68" y="268.75" width="8.43" height="9.77" fill="#fdb163"/><rect x="175.51" y="268.75" width="8.43" height="9.77" fill="#fdb96a"/><rect x="183.34" y="268.75" width="8.43" height="9.77" fill="#fdc372"/><rect x="191.16" y="268.75" width="8.43" height="9.77" fill="#fece7c"/><rect x="198.99" y="268.75" width="8.43" height="9.77" fill="#feda86"/><rect x="206.82" y="268.75" width="8.43" height="9.77" fill="#fee491"/><rect x="214.65" y="268.75" width="8.43" height="9.77" fill="#feec9f"/><rect x="222.48" y="268.75" width="8.43" height="9.77" fill="#fff5ae"/><rect x="230.30" y="268.75" width="8.43" height="9.77" fill="#fffdbc"/><rect x="238.13" y="268.75" width="8.43" height="9.77" fill="#f8fcb6"/><rect x="245.96" y="268.75" width="8.43" height="9.77" fill="#eef8a8"/><rect x="253.79" y="268.75" width="8.43" height="9.77" fill="#e3f399"/><rect x="261.62" y="268.75" width="8.43" height="9.77" fill="#d7ee8a"/><rect x="269.44" y="268.75" width="8.43" height="9.77" fill="#c3e67d"/><rect x="277.27" y="268.75" width="8.43" height="9.77" fill="#b1de71"/><rect x="285.10" y="268.75" width="8.43" height="9.77" fill="#a2d76a"/><rect x="292.93" y="268.75" width="8.43" height="9.77" fill="#9bd469"/><rect x="300.76" y="268.75" width="8.43" height="9.77" fill="#96d268"/><rect x="308.58" y="268.75" width="8.43" height="9.77" fill="#8ccd67"/><rect x="316.41" y="268.75" width="8.43" height="9.77" fill="#70c164"/><rect x="324.24" y="268.75" width="8.43" height="9.77" fill="#42ac5a"/><rect x="332.07" y="268.75" width="8.43" height="9.77" fill="#138c4a"/>
<rect x="89.40" y="277.91" width="8.43" height="9.77" fill="#66bd63"/><rect x="97.23" y="277.91" width="8.43" height="9.77" fill="#a2d76a"/><rect x="105.06" y="277.91" width="8.43" height="9.77" fill="#cfeb85"/><rect x="112.88" y="277.91" width="8.43" height="9.77" fill="#f1f9ac"/><rect x="120.71" y="277.91" width="8.43" height="9.77" fill="#fff0a6"/><rect x="128.54" y="277.91" width="8.43" height="9.77" fill="#fed884"/><rect x="136.37" y="277.91" width="8.43" height="9.77" fill="#fdc372"/><rect x="144.20" y="277.91" width="8.43" height="9.77" fill="#fdb768"/><rect x="152.02" y="277.91" width="8.43" height="9.77" fill="#fdb365"/><rect x="159.85" y="277.91" width="8.43" height="9.77" fill="#fdb567"/><rect x="167.68" y="277.91" width="8.43" height="9.77" fill="#fdb96a"/><rect x="175.51" y="277.91" width="8.43" height="9.77" fill="#fdc171"/><rect x="183.34" y="277.91" width="8.43" height="9.77" fill="#feca79"/><rect x="191.16" y="277.91" width="8.43" height="9.77" fill="#fed683"/><rect x="198.99" y="277.91" width="8.43" height="9.77" fill="#fee18d"/><rect x="206.82" y="277.91" width="8.43" height="9.77" fill="#fee999"/><rect x="214.65" y="277.91" width="8.43" height="9.77" fill="#fff1a8"/><rect x="222.48" y="277.91" width="8.43" height="9.77" fill="#fffab6"/><rect x="230.30" y="277.91" width="8.43" height="9.77" fill="#fafdb8"/><rect x="238.13" y="277.91" width="8.43" height="9.77" fill="#eef8a8"/><rect x="245.96" y="277.91" width="8.43" height="9.77" fill="#e2f397"/><rect x="253.79" y="277.91" width="8.43" height="9.77" fill="#d5ed88"/><rect x="261.62" y="277.91" width="8.43" height="9.77" fill="#c3e67d"/><rect x="269.44" y="277.91" width="8.43" height="9.77" fill="#b3df72"/><rect x="277.27" y="277.91" width="8.43" height="9.77" fill="#a7d96b"/><rect x="285.10" y="277.91" width="8.43" height="9.77" fill="#9bd469"/><rect x="292.93" y="277.91" width="8.43" height="9.77" fill="#93d168"/><rect x="300.76" y="277.91" width="8.43" height="9.77" fill="#8ccd67"/><rect x="308.58" y="277.91" width="8.43" height="9.77" fill="#7fc866"/><rect x="316.41" y="277.91" width="8.43" height="9.77" fill="#57b65f"/><rect x="324.24" y="277.91" width="8.43" height="9.77" fill="#16914d"/>
<rect x="89.40" y="287.08" width="8.43" height="9.77" fill="#3ca959"/><rect x="97.23" y="287.08" width="8.43" height="9.77" fill="#84ca66"/><rect x="105.06" y="287.08" width="8.43" height="9.77" fill="#b9e176"/><rect x="112.88" y="287.08" width="8.43" height="9.77" fill="#e0f295"/><rect x="120.71" y="287.08" width="8.43" height="9.77" fill="#fffcba"/><rect x="128.54" y="287.08" width="8.43" height="9.77" fill="#fee491"/><rect x="136.37" y="287.08" width="8.43" height="9.77" fill="#fece7c"/><rect x="144.20" y="287.08" width="8.43" height="9.77" fill="#fdc372"/><rect x="152.02" y="287.08" width="16.26" height="9.77" fill="#fdbf6f"/><rect x="167.68" y="287.08" width="8.43" height="9.77" fill="#fdc372"/><rect x="175.51" y="287.08" width="8.43" height="9.77" fill="#feca79"/><rect x="183.34" y="287.08" width="8.43" height="9.77" fill="#fed481"/><rect x="191.16" y="287.08" width="8.43" height="9.77" fill="#fee08b"/><rect x="198.99" y="287.08" width="8.43" height="9.77" fill="#fee695"/><rect x="206.82" y="287.08" width="8.43" height="9.77" fill="#feeda1"/><rect x="214.65" y="287.08" width="8.43" height="9.77" fill="#fff6b0"/><rect x="222.48" y="287.08" width="8.43" height="9.77" fill="#feffbe"/><rect x="230.30" y="287.08" width="8.43" height="9.77" fill="#f2faae"/><rect x="238.13" y="287.08" width="8.43" height="9.77" fill="#e5f49b"/><rect x="245.96" y="287.08" width="8.43" height="9.77" fill="#d5ed88"/><rect x="253.79" y="287.08" width="8.43" height="9.77" fill="#c3e67d"/><rect x="261.62" y="287.08" width="8.43" height="9.77" fill="#b3df72"/><rect x="269.44" y="287.08" width="8.43" height="9.77" fill="#a7d96b"/><rect x="277.27" y="287.08" width="8.43" height="9.77" fill="#a0d669"/><rect x="285.10" y="287.08" width="8.43" height="9.77" fill="#98d368"/><rect x="292.93" y="287.08" width="8.43" height="9.77" fill="#8ecf67"/><rect x="300.76" y="287.08" width="8.43" height="9.77" fill="#82c966"/><rect x="308.58" y="287.08" width="8.43" height="9.77" fill="#73c264"/><rect x="316.41" y="287.08" width="8.43" height="9.77" fill="#4eb15d"/><rect x="324.24" y="287.08" width="8.43" height="9.77" fill="#108647"/>
<rect x="89.40" y="296.25" width="8.43" height="9.77" fill="#16914d"/><rect x="97.23" y="296.25" width="8.43" height="9.77" fill="#69be63"/><rect x="105.06" y="296.25" width="8.43" height="9.77" fill="#a5d86a"/><rect x="112.88" y="296.25" width="8.43" height="9.77" fill="#cfeb85"/><rect x="120.71" y="296.25" width="8.43" height="9.77" fill="#f2faae"/><rect x="128.54" y="296.25" width="8.43" height="9.77" fill="#fff1a8"/><rect x="136.37" y="296.25" width="8.43" height="9.77" fill="#fee08b"/><rect x="144.20" y="296.25" width="8.43" height="9.77" fill="#fed27f"/><rect x="152.02" y="296.25" width="8.43" height="9.77" fill="#fecc7b"/><rect x="159.85" y="296.25" width="8.43" height="9.77" fill="#feca79"/><rect x="167.68" y="296.25" width="8.43" height="9.77" fill="#fece7c"/><rect x="175.51" y="296.25" width="8.43" height="9.77" fill="#fed481"/><rect x="183.34" y="296.25" width="8.43" height="9.77" fill="#fede89"/><rect x="191.16" y="296.25" width="8.43" height="9.77" fill="#fee695"/><rect x="198.99" y="296.25" width="8.43" height="9.77" fill="#feec9f"/><rect x="206.82" y="296.25" width="8.43" height="9.77" fill="#fff3ac"/><rect x="214.65" y="296.25" width="8.43" height="9.77" fill="#fffcba"/><rect x="222.48" y="296.25" width="8.43" height="9.77" fill="#f7fcb4"/><rect x="230.30" y="296.25" width="8.43" height="9.77" fill="#e9f6a1"/><rect x="238.13" y="296.25" width="8.43" height="9.77" fill="#dcf08f"/><rect x="245.96" y="296.25" width="8.43" height="9.77" fill="#c9e881"/><rect x="253.79" y="296.25" width="8.43" height="9.77" fill="#b7e075"/><rect x="261.62" y="296.25" width="8.43" height="9.77" fill="#abdb6d"/><rect x="269.44" y="296.25" width="8.43" height="9.77" fill="#a0d669"/><rect x="277.27" y="296.25" width="8.43" height="9.77" fill="#96d268"/><rect x="285.10" y="296.25" width="8.43" height="9.77" fill="#8ecf67"/><rect x="292.93" y="296.25" width="8.43" height="9.77" fill="#82c966"/><rect x="300.76" y="296.25" width="8.43" height="9.77" fill="#6ec064"/><rect x="308.58" y="296.25" width="8.43" height="9.77" fill="#5db961"/><rect x="316.41" y="296.25" width="8.43" height="9.77" fill="#48ae5c"/><rect x="324.24" y="296.25" width="8.43" height="9.77" fill="#2aa054"/><rect x="332.07" y="296.25" width="8.43" height="9.77" fill="#0e8245"/>
<rect x="97.23" y="305.41" width="8.43" height="9.77" fill="#45ad5b"/><rect x="105.06" y="305.41" width="8.43" height="9.77" fill="#8ccd67"/><rect x="112.88" y="305.41" width="8.43" height="9.77" fill="#bfe47a"/><rect x="120.71" y="305.41" width="8.43" height="9.77" fill="#e5f49b"/><rect x="128.54" y="305.41" width="8.43" height="9.77" fill="#fffdbc"/><rect x="136.37" y="305.41" width="8.43" height="9.77" fill="#feec9f"/><rect x="144.20" y="305.41" width="8.43" height="9.77" fill="#fee28f"/><rect x="152.02" y="305.41" width="8.43" height="9.77" fill="#fedc88"/><rect x="159.85" y="305.41" width="16.26" height="9.77" fill="#fed884"/><rect x="175.51" y="305.41" width="8.43" height="9.77" fill="#fede89"/><rect x="183.34" y="305.41" width="8.43" height="9.77" fill="#fee593"/><rect x="191.16" y="305.41" width="8.43" height="9.77" fill="#feeb9d"/><rect x="198.99" y="305.41" width="8.43" height="9.77" fill="#fff2aa"/><rect x="206.82" y="305.41" width="8.43" height="9.77" fill="#fffab6"/><rect x="214.65" y="305.41" width="8.43" height="9.77" fill="#fbfdba"/><rect x="222.48" y="305.41" width="8.43" height="9.77" fill="#eff8aa"/><rect x="230.30" y="305.41" width="8.43" height="9.77" fill="#e2f397"/><rect x="238.13" y="305.41" width="8.43" height="9.77" fill="#d1ec86"/><rect x="245.96" y="305.41" width="8.43" height="9.77" fill="#bde379"/><rect x="253.79" y="305.41" width="8.43" height="9.77" fill="#addc6f"/><rect x="261.62" y="305.41" width="8.43" height="9.77" fill="#a2d76a"/><rect x="269.44" y="305.41" width="8.43" height="9.77" fill="#98d368"/><rect x="277.27" y="305.41" width="8.43" height="9.77" fill="#8ccd67"/><rect x="285.10" y="305.41" width="8.43" height="9.77" fill="#7fc866"/><rect x="292.93" y="305.41" width="8.43" height="9.77" fill="#70c164"/><rect x="300.76" y="305.41" width="8.43" height="9.77" fill="#5db961"/><rect x="308.58" y="305.41" width="8.43" height="9.77" fill="#51b35e"/><rect x="316.41" y="305.41" width="8.43" height="9.77" fill="#4eb15d"/><rect x="324.24" y="305.41" width="8.43" height="9.77" fill="#45ad5b"/><rect x="332.07" y="305.41" width="8.43" height="9.77" fill="#279f53"/><rect x="339.90" y="305.41" width="8.43" height="9.77" fill="#05713c"/>
<rect x="97.23" y="314.58" width="8.43" height="9.77" fill="#279f53"/><rect x="105.06" y="314.58" width="8.43" height="9.77" fill="#78c565"/><rect x="112.88" y="314.58" width="8.43" height="9.77" fill="#afdd70"/><rect x="120.71" y="314.58" width="8.43" height="9.77" fill="#daf08d"/><rect x="128.54" y="314.58" width="8.43" height="9.77" fill="#f7fcb4"/><rect x="136.37" y="314.58" width="8.43" height="9.77" fill="#fff6b0"/><rect x="144.20" y="314.58" width="8.43" height="9.77" fill="#feeb9d"/><rect x="152.02" y="314.58" width="8.43" height="9.77" fill="#fee593"/><rect x="159.85" y="314.58" width="16.26" height="9.77" fill="#fee18d"/><rect x="175.51" y="314.58" width="8.43" height="9.77" fill="#fee491"/><rect x="183.34" y="314.58" width="8.43" height="9.77" fill="#feea9b"/><rect x="191.16" y="314.58" width="8.43" height="9.77" fill="#fff0a6"/><rect x="198.99" y="314.58" width="8.43" height="9.77" fill="#fff7b2"/><rect x="206.82" y="314.58" width="8.43" height="9.77" fill="#feffbe"/><rect x="214.65" y="314.58" width="8.43" height="9.77" fill="#f4fab0"/><rect x="222.48" y="314.58" width="8.43" height="9.77" fill="#e8f59f"/><rect x="230.30" y="314.58" width="8.43" height="9.77" fill="#daf08d"/><rect x="238.13" y="314.58" width="8.43" height="9.77" fill="#c9e881"/><rect x="245.96" y="314.58" width="8.43" height="9.77" fill="#b7e075"/><rect x="253.79" y="314.58" width="8.43" height="9.77" fill="#a9da6c"/><rect x="261.62" y="314.58" width="8.43" height="9.77" fill="#9bd469"/><rect x="269.44" y="314.58" width="8.43" height="9.77" fill="#8ccd67"/><rect x="277.27" y="314.58" width="8.43" height="9.77" fill="#7ac665"/><rect x="285.10" y="314.58" width="8.43" height="9.77" fill="#6bbf64"/><rect x="292.93" y="314.58" width="8.43" height="9.77" fill="#5db961"/><rect x="300.76" y="314.58" width="8.43" height="9.77" fill="#54b45f"/><rect x="308.58" y="314.58" width="8.43" height="9.77" fill="#51b35e"/><rect x="316.41" y="314.58" width="8.43" height="9.77" fill="#4bb05c"/><rect x="324.24" y="314.58" width="8.43" height="9.77" fill="#3ca959"/><rect x="332.07" y="314.58" width="8.43" height="9.77" fill="#199750"/>
<rect x="97.23" y="323.74" width="8.43" height="9.77" fill="#0f8446"/><rect x="105.06" y="323.74" width="8.43" height="9.77" fill="#63bc62"/><rect x="112.88" y="323.74" width="8.43" height="9.77" fill="#9dd569"/><rect x="120.71" y="323.74" width="8.43" height="9.77" fill="#cdea83"/><rect x="128.54" y="323.74" width="8.43" height="9.77" fill="#eef8a8"/><rect x="136.37" y="323.74" width="8.43" height="9.77" fill="#fffdbc"/><rect x="144.20" y="323.74" width="8.43" height="9.77" fill="#fff2aa"/><rect x="152.02" y="323.74" width="8.43" height="9.77" fill="#feeb9d"/><rect x="159.85" y="323.74" width="8.43" height="9.77" fill="#fee999"/><rect x="167.68" y="323.74" width="8.43" height="9.77" fill="#fee797"/><rect x="175.51" y="323.74" width="8.43" height="9.77" fill="#feea9b"/><rect x="183.34" y="323.74" width="8.43" height="9.77" fill="#fff0a6"/><rect x="191.16" y="323.74" width="8.43" height="9.77" fill="#fff6b0"/><rect x="198.99" y="323.74" width="8.43" height="9.77" fill="#fffebe"/><rect x="206.82" y="323.74" width="8.43" height="9.77" fill="#f5fbb2"/><rect x="214.65" y="323.74" width="8.43" height="9.77" fill="#ebf7a3"/><rect x="222.48" y="323.74" width="8.43" height="9.77" fill="#dff293"/><rect x="230.30" y="323.74" width="8.43" height="9.77" fill="#cfeb85"/><rect x="238.13" y="323.74" width="8.43" height="9.77" fill="#bde379"/><rect x="245.96" y="323.74" width="8.43" height="9.77" fill="#addc6f"/><rect x="253.79" y="323.74" width="8.43" height="9.77" fill="#9dd569"/><rect x="261.62" y="323.74" width="8.43" height="9.77" fill="#89cc67"/><rect x="269.44" y="323.74" width="8.43" height="9.77" fill="#73c264"/><rect x="277.27" y="323.74" width="8.43" height="9.77" fill="#5db961"/><rect x="285.10" y="323.74" width="8.43" height="9.77" fill="#51b35e"/><rect x="292.93" y="323.74" width="8.43" height="9.77" fill="#4bb05c"/><rect x="300.76" y="323.74" width="8.43" height="9.77" fill="#48ae5c"/><rect x="308.58" y="323.74" width="8.43" height="9.77" fill="#3faa59"/><rect x="316.41" y="323.74" width="8.43" height="9.77" fill="#2da155"/><rect x="324.24" y="323.74" width="8.43" height="9.77" fill="#138c4a"/><rect x="332.07" y="323.74" width="8.43" height="9.77" fill="#026c39"/>
<rect x="105.06" y="332.91" width="8.43" height="9.77" fill="#48ae5c"/><rect x="112.88" y="332.91" width="8.43" height="9.77" fill="#8ccd67"/><rect x="120.71" y="332.91" width="8.43" height="9.77" fill="#c1e57b"/><rect x="128.54" y="332.91" width="8.43" height="9.77" fill="#e5f49b"/><rect x="136.37" y="332.91" width="8.43" height="9.77" fill="#fafdb8"/><rect x="144.20" y="332.91" width="8.43" height="9.77" fill="#fff8b4"/><rect x="152.02" y="332.91" width="8.43" height="9.77" fill="#fff1a8"/><rect x="159.85" y="332.91" width="16.26" height="9.77" fill="#feefa3"/><rect x="175.51" y="332.91" width="8.43" height="9.77" fill="#fff1a8"/><rect x="183.34" y="332.91" width="8.43" height="9.77" fill="#fff6b0"/><rect x="191.16" y="332.91" width="8.43" height="9.77" fill="#fffdbc"/><rect x="198.99" y="332.91" width="8.43" height="9.77" fill="#f7fcb4"/><rect x="206.82" y="332.91" width="8.43" height="9.77" fill="#ecf7a6"/><rect x="214.65" y="332.91" width="8.43" height="9.77" fill="#e0f295"/><rect x="222.48" y="332.91" width="8.43" height="9.77" fill="#d1ec86"/><rect x="230.30" y="332.91" width="8.43" height="9.77" fill="#bfe47a"/><rect x="238.13" y="332.91" width="8.43" height="9.77" fill="#addc6f"/><rect x="245.96" y="332.91" width="8.43" height="9.77" fill="#98d368"/><rect x="253.79" y="332.91" width="8.43" height="9.77" fill="#82c966"/><rect x="261.62" y="332.91" width="8.43" height="9.77" fill="#6bbf64"/><rect x="269.44" y="332.91" width="8.43" height="9.77" fill="#51b35e"/><rect x="277.27" y="332.91" width="8.43" height="9.77" fill="#3faa59"/><rect x="285.10" y="332.91" width="16.26" height="9.77" fill="#3ca959"/><rect x="300.76" y="332.91" width="8.43" height="9.77" fill="#33a456"/><rect x="308.58" y="332.91" width="8.43" height="9.77" fill="#1e9a51"/><rect x="316.41" y="332.91" width="8.43" height="9.77" fill="#0a7b41"/>
<rect x="105.06" y="342.08" width="8.43" height="9.77" fill="#2da155"/><rect x="112.88" y="342.08" width="8.43" height="9.77" fill="#84ca66"/><rect x="120.71" y="342.08" width="8.43" height="9.77" fill="#b9e176"/><rect x="128.54" y="342.08" width="8.43" height="9.77" fill="#ddf191"/><rect x="136.37" y="342.08" width="8.43" height="9.77" fill="#f1f9ac"/><rect x="144.20" y="342.08" width="8.43" height="9.77" fill="#feffbe"/><rect x="152.02" y="342.08" width="8.43" height="9.77" fill="#fff8b4"/><rect x="159.85" y="342.08" width="16.26" height="9.77" fill="#fff5ae"/><rect x="175.51" y="342.08" width="8.43" height="9.77" fill="#fff8b4"/><rect x="183.34" y="342.08" width="8.43" height="9.77" fill="#fffdbc"/><rect x="191.16" y="342.08" width="8.43" height="9.77" fill="#f8fcb6"/><rect x="198.99" y="342.08" width="8.43" height="9.77" fill="#eef8a8"/><rect x="206.82" y="342.08" width="8.43" height="9.77" fill="#e2f397"/><rect x="214.65" y="342.08" width="8.43" height="9.77" fill="#d3ec87"/><rect x="222.48" y="342.08" width="8.43" height="9.77" fill="#c1e57b"/><rect x="230.30" y="342.08" width="8.43" height="9.77" fill="#abdb6d"/><rect x="238.13" y="342.08" width="8.43" height="9.77" fill="#91d068"/><rect x="245.96" y="342.08" width="8.43" height="9.77" fill="#78c565"/><rect x="253.79" y="342.08" width="8.43" height="9.77" fill="#5ab760"/><rect x="261.62" y="342.08" width="8.43" height="9.77" fill="#45ad5b"/><rect x="269.44" y="342.08" width="8.43" height="9.77" fill="#39a758"/><rect x="277.27" y="342.08" width="16.26" height="9.77" fill="#33a456"/><rect x="292.93" y="342.08" width="8.43" height="9.77" fill="#2da155"/><rect x="300.76" y="342.08" width="8.43" height="9.77" fill="#17934e"/><rect x="308.58" y="342.08" width="8.43" height="9.77" fill="#036e3a"/>
<rect x="105.06" y="351.24" width="8.43" height="9.77" fill="#0c7f43"/><rect x="112.88" y="351.24" width="8.43" height="9.77" fill="#73c264"/><rect x="120.71" y="351.24" width="8.43" height="9.77" fill="#afdd70"/><rect x="128.54" y="351.24" width="8.43" height="9.77" fill="#d3ec87"/><rect x="136.37" y="351.24" width="8.43" height="9.77" fill="#e6f59d"/><rect x="144.20" y="351.24" width="8.43" height="9.77" fill="#f4fab0"/><rect x="152.02" y="351.24" width="8.43" height="9.77" fill="#fdfebc"/><rect x="159.85" y="351.24" width="16.26" height="9.77" fill="#fffdbc"/><rect x="175.51" y="351.24" width="8.43" height="9.77" fill="#feffbe"/><rect x="183.34" y="351.24" width="8.43" height="9.77" fill="#f8fcb6"/><rect x="191.16" y="351.24" width="8.43" height="9.77" fill="#eff8aa"/><rect x="198.99" y="351.24" width="8.43" height="9.77" fill="#e5f49b"/><rect x="206.82" y="351.24" width="8.43" height="9.77" fill="#d9ef8b"/><rect x="214.65" y="351.24" width="8.43" height="9.77" fill="#c7e77f"/><rect x="222.48" y="351.24" width="8.43" height="9.77" fill="#b1de71"/><rect x="230.30" y="351.24" width="8.43" height="9.77" fill="#93d168"/><rect x="238.13" y="351.24" width="8.43" height="9.77" fill="#73c264"/><rect x="245.96" y="351.24" width="8.43" height="9.77" fill="#51b35e"/><rect x="253.79" y="351.24" width="8.43" height="9.77" fill="#36a657"/><rect x="261.62" y="351.24" width="8.43" height="9.77" fill="#2aa054"/><rect x="269.44" y="351.24" width="8.43" height="9.77" fill="#279f53"/><rect x="277.27" y="351.24" width="8.43" height="9.77" fill="#2aa054"/><rect x="285.10" y="351.24" width="8.43" height="9.77" fill="#2da155"/><rect x="292.93" y="351.24" width="8.43" height="9.77" fill="#279f53"/><rect x="300.76" y="351.24" width="8.43" height="9.77" fill="#0b7d42"/>
<rect x="112.88" y="360.41" width="8.43" height="9.77" fill="#45ad5b"/><rect x="120.71" y="360.41" width="8.43" height="9.77" fill="#91d068"/><rect x="128.54" y="360.41" width="8.43" height="9.77" fill="#bde379"/><rect x="136.37" y="360.41" width="8.43" height="9.77" fill="#d9ef8b"/><rect x="144.20" y="360.41" width="8.43" height="9.77" fill="#e8f59f"/><rect x="152.02" y="360.41" width="8.43" height="9.77" fill="#f1f9ac"/><rect x="159.85" y="360.41" width="8.43" height="9.77" fill="#f7fcb4"/><rect x="167.68" y="360.41" width="8.43" height="9.77" fill="#f8fcb6"/><rect x="175.51" y="360.41" width="8.43" height="9.77" fill="#f5fbb2"/><rect x="183.34" y="360.41" width="8.43" height="9.77" fill="#eff8aa"/><rect x="191.16" y="360.41" width="8.43" height="9.77" fill="#e8f59f"/><rect x="198.99" y="360.41" width="8.43" height="9.77" fill="#ddf191"/><rect x="206.82" y="360.41" width="8.43" height="9.77" fill="#d1ec86"/><rect x="214.65" y="360.41" width="8.43" height="9.77" fill="#c1e57b"/><rect x="222.48" y="360.41" width="8.43" height="9.77" fill="#a9da6c"/><rect x="230.30" y="360.41" width="8.43" height="9.77" fill="#87cb67"/><rect x="238.13" y="360.41" width="8.43" height="9.77" fill="#60ba62"/><rect x="245.96" y="360.41" width="8.43" height="9.77" fill="#39a758"/><rect x="253.79" y="360.41" width="8.43" height="9.77" fill="#279f53"/><rect x="261.62" y="360.41" width="8.43" height="9.77" fill="#249d53"/><rect x="269.44" y="360.41" width="8.43" height="9.77" fill="#279f53"/><rect x="277.27" y="360.41" width="16.26" height="9.77" fill="#2aa054"/><rect x="292.93" y="360.41" width="8.43" height="9.77" fill="#279f53"/><rect x="300.76" y="360.41" width="8.43" height="9.77" fill="#0a7b41"/>
<rect x="120.71" y="369.57" width="8.43" height="9.77" fill="#4eb15d"/><rect x="128.54" y="369.57" width="8.43" height="9.77" fill="#9dd569"/><rect x="136.37" y="369.57" width="8.43" height="9.77" fill="#bfe47a"/><rect x="144.20" y="369.57" width="8.43" height="9.77" fill="#d5ed88"/><rect x="152.02" y="369.57" width="8.43" height="9.77" fill="#e0f295"/><rect x="159.85" y="369.57" width="8.43" height="9.77" fill="#e8f59f"/><rect x="167.68" y="369.57" width="8.43" height="9.77" fill="#ecf7a6"/><rect x="175.51" y="369.57" width="8.43" height="9.77" fill="#ebf7a3"/><rect x="183.34" y="369.57" width="8.43" height="9.77" fill="#e8f59f"/><rect x="191.16" y="369.57" width="8.43" height="9.77" fill="#e2f397"/><rect x="198.99" y="369.57" width="8.43" height="9.77" fill="#daf08d"/><rect x="206.82" y="369.57" width="8.43" height="9.77" fill="#cfeb85"/><rect x="214.65" y="369.57" width="8.43" height="9.77" fill="#c1e57b"/><rect x="222.48" y="369.57" width="8.43" height="9.77" fill="#abdb6d"/><rect x="230.30" y="369.57" width="8.43" height="9.77" fill="#89cc67"/><rect x="238.13" y="369.57" width="8.43" height="9.77" fill="#60ba62"/><rect x="245.96" y="369.57" width="8.43" height="9.77" fill="#39a758"/><rect x="253.79" y="369.57" width="16.26" height="9.77" fill="#2aa054"/><rect x="269.44" y="369.57" width="8.43" height="9.77" fill="#33a456"/><rect x="277.27" y="369.57" width="8.43" height="9.77" fill="#36a657"/><rect x="285.10" y="369.57" width="8.43" height="9.77" fill="#33a456"/><rect x="292.93" y="369.57" width="8.43" height="9.77" fill="#1b9950"/><rect x="300.76" y="369.57" width="8.43" height="9.77" fill="#016a38"/>
<rect x="128.54" y="378.74" width="8.43" height="9.77" fill="#6bbf64"/><rect x="136.37" y="378.74" width="8.43" height="9.77" fill="#9bd469"/><rect x="144.20" y="378.74" width="8.43" height="9.77" fill="#b5df74"/><rect x="152.02" y="378.74" width="8.43" height="9.77" fill="#c7e77f"/><rect x="159.85" y="378.74" width="8.43" height="9.77" fill="#d5ed88"/><rect x="167.68" y="378.74" width="8.43" height="9.77" fill="#dcf08f"/><rect x="175.51" y="378.74" width="16.26" height="9.77" fill="#dff293"/><rect x="191.16" y="378.74" width="8.43" height="9.77" fill="#dcf08f"/><rect x="198.99" y="378.74" width="8.43" height="9.77" fill="#d7ee8a"/><rect x="206.82" y="378.74" width="8.43" height="9.77" fill="#cfeb85"/><rect x="214.65" y="378.74" width="8.43" height="9.77" fill="#c3e67d"/><rect x="222.48" y="378.74" width="8.43" height="9.77" fill="#b1de71"/><rect x="230.30" y="378.74" width="8.43" height="9.77" fill="#91d068"/><rect x="238.13" y="378.74" width="8.43" height="9.77" fill="#63bc62"/><rect x="245.96" y="378.74" width="8.43" height="9.77" fill="#3ca959"/><rect x="253.79" y="378.74" width="16.26" height="9.77" fill="#30a356"/><rect x="269.44" y="378.74" width="8.43" height="9.77" fill="#33a456"/><rect x="277.27" y="378.74" width="8.43" height="9.77" fill="#30a356"/><rect x="285.10" y="378.74" width="8.43" height="9.77" fill="#18954f"/><rect x="292.93" y="378.74" width="8.43" height="9.77" fill="#07753e"/>
<rect x="128.54" y="387.91" width="8.43" height="9.77" fill="#2aa054"/><rect x="136.37" y="387.91" width="8.43" height="9.77" fill="#6ec064"/><rect x="144.20" y="387.91" width="8.43" height="9.77" fill="#91d068"/><rect x="152.02" y="387.91" width="8.43" height="9.77" fill="#a7d96b"/><rect x="159.85" y="387.91" width="8.43" height="9.77" fill="#b9e176"/><rect x="167.68" y="387.91" width="8.43" height="9.77" fill="#c7e77f"/><rect x="175.51" y="387.91" width="8.43" height="9.77" fill="#cfeb85"/><rect x="183.34" y="387.91" width="8.43" height="9.77" fill="#d3ec87"/><rect x="191.16" y="387.91" width="8.43" height="9.77" fill="#d1ec86"/><rect x="198.99" y="387.91" width="8.43" height="9.77" fill="#cdea83"/><rect x="206.82" y="387.91" width="8.43" height="9.77" fill="#c9e881"/><rect x="214.65" y="387.91" width="8.43" height="9.77" fill="#c3e67d"/><rect x="222.48" y="387.91" width="8.43" height="9.77" fill="#b1de71"/><rect x="230.30" y="387.91" width="8.43" height="9.77" fill="#89cc67"/><rect x="238.13" y="387.91" width="8.43" height="9.77" fill="#51b35e"/><rect x="245.96" y="387.91" width="8.43" height="9.77" fill="#30a356"/><rect x="253.79" y="387.91" width="8.43" height="9.77" fill="#2da155"/><rect x="261.62" y="387.91" width="8.43" height="9.77" fill="#249d53"/><rect x="269.44" y="387.91" width="8.43" height="9.77" fill="#148e4b"/><rect x="277.27" y="387.91" width="8.43" height="9.77" fill="#0a7b41"/>
<rect x="136.37" y="397.07" width="8.43" height="9.77" fill="#30a356"/><rect x="144.20" y="397.07" width="8.43" height="9.77" fill="#73c264"/><rect x="152.02" y="397.07" width="8.43" height="9.77" fill="#8ccd67"/><rect x="159.85" y="397.07" width="8.43" height="9.77" fill="#a2d76a"/><rect x="167.68" y="397.07" width="8.43" height="9.77" fill="#b3df72"/><rect x="175.51" y="397.07" width="8.43" height="9.77" fill="#bfe47a"/><rect x="183.34" y="397.07" width="16.26" height="9.77" fill="#c3e67d"/><rect x="198.99" y="397.07" width="16.26" height="9.77" fill="#bfe47a"/><rect x="214.65" y="397.07" width="8.43" height="9.77" fill="#bbe278"/><rect x="222.48" y="397.07" width="8.43" height="9.77" fill="#a5d86a"/><rect x="230.30" y="397.07" width="8.43" height="9.77" fill="#6ec064"/><rect x="238.13" y="397.07" width="8.43" height="9.77" fill="#3faa59"/><rect x="245.96" y="397.07" width="8.43" height="9.77" fill="#279f53"/><rect x="253.79" y="397.07" width="8.43" height="9.77" fill="#15904c"/><rect x="261.62" y="397.07" width="8.43" height="9.77" fill="#05713c"/>
<rect x="136.37" y="406.24" width="8.43" height="9.77" fill="#15904c"/><rect x="144.20" y="406.24" width="8.43" height="9.77" fill="#69be63"/><rect x="152.02" y="406.24" width="8.43" height="9.77" fill="#84ca66"/><rect x="159.85" y="406.24" width="8.43" height="9.77" fill="#96d268"/><rect x="167.68" y="406.24" width="8.43" height="9.77" fill="#a7d96b"/><rect x="175.51" y="406.24" width="8.43" height="9.77" fill="#b1de71"/><rect x="183.34" y="406.24" width="24.08" height="9.77" fill="#b9e176"/><rect x="206.82" y="406.24" width="8.43" height="9.77" fill="#b7e075"/><rect x="214.65" y="406.24" width="8.43" height="9.77" fill="#afdd70"/><rect x="222.48" y="406.24" width="8.43" height="9.77" fill="#87cb67"/><rect x="230.30" y="406.24" width="8.43" height="9.77" fill="#36a657"/><rect x="238.13" y="406.24" width="8.43" height="9.77" fill="#219c52"/><rect x="245.96" y="406.24" width="8.43" height="9.77" fill="#128a49"/>
<rect x="136.37" y="415.40" width="8.43" height="9.77" fill="#07753e"/><rect x="144.20" y="415.40" width="8.43" height="9.77" fill="#5db961"/><rect x="152.02" y="415.40" width="8.43" height="9.77" fill="#82c966"/><rect x="159.85" y="415.40" width="8.43" height="9.77" fill="#8ecf67"/><rect x="167.68" y="415.40" width="8.43" height="9.77" fill="#9dd569"/><rect x="175.51" y="415.40" width="8.43" height="9.77" fill="#a9da6c"/><rect x="183.34" y="415.40" width="8.43" height="9.77" fill="#b1de71"/><rect x="191.16" y="415.40" width="16.26" height="9.77" fill="#b7e075"/><rect x="206.82" y="415.40" width="8.43" height="9.77" fill="#b3df72"/><rect x="214.65" y="415.40" width="8.43" height="9.77" fill="#a2d76a"/><rect x="222.48" y="415.40" width="8.43" height="9.77" fill="#75c465"/><rect x="230.30" y="415.40" width="8.43" height="9.77" fill="#36a657"/><rect x="238.13" y="415.40" width="8.43" height="9.77" fill="#138c4a"/>
<rect x="144.20" y="424.57" width="8.43" height="9.77" fill="#4bb05c"/><rect x="152.02" y="424.57" width="8.43" height="9.77" fill="#7dc765"/><rect x="159.85" y="424.57" width="8.43" height="9.77" fill="#8ccd67"/><rect x="167.68" y="424.57" width="8.43" height="9.77" fill="#96d268"/><rect x="175.51" y="424.57" width="8.43" height="9.77" fill="#a2d76a"/><rect x="183.34" y="424.57" width="8.43" height="9.77" fill="#addc6f"/><rect x="191.16" y="424.57" width="8.43" height="9.77" fill="#b3df72"/><rect x="198.99" y="424.57" width="8.43" height="9.77" fill="#b7e075"/><rect x="206.82" y="424.57" width="8.43" height="9.77" fill="#b3df72"/><rect x="214.65" y="424.57" width="8.43" height="9.77" fill="#a2d76a"/><rect x="222.48" y="424.57" width="8.43" height="9.77" fill="#7ac665"/><rect x="230.30" y="424.57" width="8.43" height="9.77" fill="#3faa59"/><rect x="238.13" y="424.57" width="8.43" height="9.77" fill="#128a49"/>
<rect x="144.20" y="433.74" width="8.43" height="9.77" fill="#219c52"/><rect x="152.02" y="433.74" width="8.43" height="9.77" fill="#70c164"/><rect x="159.85" y="433.74" width="8.43" height="9.77" fill="#87cb67"/><rect x="167.68" y="433.74" width="8.43" height="9.77" fill="#91d068"/><rect x="175.51" y="433.74" width="8.43" height="9.77" fill="#9bd469"/><rect x="183.34" y="433.74" width="8.43" height="9.77" fill="#a9da6c"/><rect x="191.16" y="433.74" width="8.43" height="9.77" fill="#b1de71"/><rect x="198.99" y="433.74" width="16.26" height="9.77" fill="#b7e075"/><rect x="214.65" y="433.74" width="8.43" height="9.77" fill="#abdb6d"/><rect x="222.48" y="433.74" width="8.43" height="9.77" fill="#84ca66"/><rect x="230.30" y="433.74" width="8.43" height="9.77" fill="#45ad5b"/><rect x="238.13" y="433.74" width="8.43" height="9.77" fill="#199750"/>
<rect x="152.02" y="442.90" width="8.43" height="9.77" fill="#4eb15d"/><rect x="159.85" y="442.90" width="8.43" height="9.77" fill="#7dc765"/><rect x="167.68" y="442.90" width="8.43" height="9.77" fill="#89cc67"/><rect x="175.51" y="442.90" width="8.43" height="9.77" fill="#96d268"/><rect x="183.34" y="442.90" width="8.43" height="9.77" fill="#a2d76a"/><rect x="191.16" y="442.90" width="8.43" height="9.77" fill="#afdd70"/><rect x="198.99" y="442.90" width="8.43" height="9.77" fill="#b7e075"/><rect x="206.82" y="442.90" width="8.43" height="9.77" fill="#b9e176"/><rect x="214.65" y="442.90" width="8.43" height="9.77" fill="#afdd70"/><rect x="222.48" y="442.90" width="8.43" height="9.77" fill="#8ecf67"/><rect x="230.30" y="442.90" width="8.43" height="9.77" fill="#57b65f"/><rect x="238.13" y="442.90" width="8.43" height="9.77" fill="#1e9a51"/>
<rect x="152.02" y="452.07" width="8.43" height="9.77" fill="#0d8044"/><rect x="159.85" y="452.07" width="8.43" height="9.77" fill="#5ab760"/><rect x="167.68" y="452.07" width="8.43" height="9.77" fill="#7dc765"/><rect x="175.51" y="452.07" width="8.43" height="9.77" fill="#8ccd67"/><rect x="183.34" y="452.07" width="8.43" height="9.77" fill="#9bd469"/><rect x="191.16" y="452.07" width="8.43" height="9.77" fill="#a9da6c"/><rect x="198.99" y="452.07" width="8.43" height="9.77" fill="#b1de71"/><rect x="206.82" y="452.07" width="8.43" height="9.77" fill="#b5df74"/><rect x="214.65" y="452.07" width="8.43" height="9.77" fill="#abdb6d"/><rect x="222.48" y="452.07" width="8.43" height="9.77" fill="#84ca66"/><rect x="230.30" y="452.07" width="8.43" height="9.77" fill="#4bb05c"/><rect x="238.13" y="452.07" width="8.43" height="9.77" fill="#17934e"/>
<rect x="159.85" y="461.23" width="8.43" height="9.77" fill="#16914d"/><rect x="167.68" y="461.23" width="8.43" height="9.77" fill="#57b65f"/><rect x="175.51" y="461.23" width="8.43" height="9.77" fill="#75c465"/><rect x="183.34" y="461.23" width="8.43" height="9.77" fill="#8ccd67"/><rect x="191.16" y="461.23" width="8.43" height="9.77" fill="#9dd569"/><rect x="198.99" y="461.23" width="16.26" height="9.77" fill="#a7d96b"/><rect x="214.65" y="461.23" width="8.43" height="9.77" fill="#98d368"/><rect x="222.48" y="461.23" width="8.43" height="9.77" fill="#73c264"/><rect x="230.30" y="461.23" width="8.43" height="9.77" fill="#3ca959"/><rect x="238.13" y="461.23" width="8.43" height="9.77" fill="#108647"/>
</g>
<g fill="none" stroke="#000" stroke-width="1.5" stroke-linejoin="round" clip-path="url(#ax)">
<path d="M88.8 38.0C90.2 37.2 94.5 34.6 97.0 33.0C99.5 31.4 102.8 29.3 104.0 28.6"/>
<path d="M124.0 14.6C125.5 14.1 131.5 12.1 133.0 11.6"/>
<path d="M217.0 11.6C218.4 12.4 222.5 14.6 225.4 16.3C228.3 18.0 231.6 20.0 234.2 21.8C236.8 23.6 238.8 25.3 241.0 27.2C243.2 29.1 245.0 31.1 247.4 33.0C249.8 34.9 252.5 37.0 255.4 38.8C258.3 40.6 261.7 42.3 265.0 44.0C268.3 45.7 271.7 47.4 275.0 49.0C278.3 50.6 281.7 52.2 285.0 53.4C288.3 54.6 291.7 55.3 295.0 55.9C298.3 56.6 301.7 57.1 305.0 57.4C308.3 57.7 311.7 57.9 315.0 57.9C318.3 57.9 321.7 57.6 325.0 57.5C328.3 57.4 331.7 57.1 335.0 57.2C338.3 57.3 341.6 57.4 344.6 57.8C347.6 58.3 350.2 58.9 353.0 59.8C355.8 60.6 358.4 61.9 361.4 62.9C364.4 63.9 367.7 64.9 371.0 65.8C374.3 66.7 377.8 67.3 381.0 68.0C384.2 68.7 387.5 69.3 390.2 69.9C392.9 70.5 395.9 71.2 397.0 71.5"/>
<path d="M420.0 78.6C421.5 78.5 426.0 78.1 429.2 77.7C432.4 77.4 435.8 76.6 439.0 76.5C442.2 76.4 445.4 76.4 448.2 77.2C451.0 77.9 453.1 79.2 455.8 81.1C458.5 83.0 461.7 86.1 464.6 88.4C467.5 90.7 470.3 92.9 473.0 94.8C475.8 96.7 479.8 99.1 481.2 100.0"/>
<path d="M481.2 199.4C479.8 199.5 475.8 199.8 473.0 200.0C470.3 200.2 467.5 200.3 464.6 200.7C461.7 201.0 458.3 201.3 455.4 202.1C452.5 202.9 449.8 204.0 447.4 205.3C445.0 206.7 443.0 208.4 441.0 210.2C439.0 212.0 437.0 214.0 435.2 216.2C433.4 218.4 431.7 220.7 430.0 223.2C428.3 225.7 426.6 228.4 424.8 231.0C423.0 233.6 421.0 236.3 419.0 238.6C417.0 240.9 414.9 243.0 412.6 245.0C410.3 247.0 407.5 249.0 405.0 250.6C402.5 252.2 399.8 253.6 397.4 254.6C395.0 255.6 393.1 256.2 390.6 256.7C388.1 257.2 385.5 257.4 382.6 257.6C379.7 257.8 376.3 257.8 373.0 257.9C369.7 258.0 366.3 258.0 363.0 258.2C359.7 258.4 356.3 258.7 353.4 259.4C350.5 260.1 347.8 261.1 345.4 262.4C343.0 263.7 341.1 265.4 339.2 267.2C337.3 269.0 335.6 271.1 334.0 273.2C332.4 275.3 330.7 277.6 329.4 279.8C328.1 282.0 327.0 284.1 326.5 286.2C325.9 288.3 325.7 290.6 326.0 292.4C326.4 294.2 327.4 295.6 328.5 297.2C329.6 298.8 331.5 300.4 332.8 302.0C334.1 303.6 335.7 305.3 336.5 307.0C337.3 308.7 338.0 310.4 337.8 312.4C337.6 314.4 336.6 316.7 335.3 318.8C334.0 320.9 331.9 322.9 329.8 324.8C327.7 326.7 325.3 328.3 322.8 330.2C320.3 332.1 317.5 334.1 315.0 336.2C312.5 338.3 309.6 340.6 307.6 342.8C305.6 345.0 303.8 347.0 302.7 349.2C301.6 351.4 301.3 353.7 300.9 356.0C300.5 358.3 300.7 360.6 300.3 363.0C299.9 365.4 299.5 367.8 298.5 370.2C297.5 372.6 296.2 375.4 294.4 377.6C292.6 379.8 290.2 381.9 288.0 383.6C285.8 385.3 283.4 386.5 281.2 387.6C279.0 388.7 277.0 389.3 274.6 390.4C272.2 391.5 269.5 392.8 267.0 394.2C264.5 395.6 261.7 397.3 259.4 399.0C257.1 400.7 255.1 402.4 253.2 404.2C251.3 406.0 248.9 409.0 248.0 410.0"/>
<path d="M242.0 439.0C242.1 440.5 242.4 445.0 242.4 447.8C242.3 450.6 242.1 453.3 241.7 456.0C241.3 458.7 240.6 461.3 240.0 463.8C239.4 466.2 238.3 469.6 238.0 470.8"/>
<path d="M88.8 290.0C89.5 291.5 91.6 296.0 92.9 299.0C94.1 302.0 95.3 305.0 96.4 308.0C97.5 311.0 98.4 314.0 99.4 317.2C100.4 320.4 101.2 323.8 102.2 327.4C103.2 331.0 104.3 335.1 105.5 339.0C106.7 342.9 107.9 347.2 109.1 350.8C110.3 354.4 111.6 358.1 112.6 360.8C113.6 363.5 114.6 366.0 115.0 367.0"/>
<path d="M130.0 391.0C130.8 392.0 133.4 394.9 134.8 397.0C136.2 399.1 137.6 401.1 138.6 403.6C139.6 406.1 140.3 409.1 141.0 412.2C141.7 415.3 142.3 418.7 143.0 422.0C143.7 425.3 144.4 428.7 145.4 432.0C146.4 435.3 147.7 438.6 149.2 441.8C150.7 445.0 152.4 448.0 154.2 451.0C156.0 454.0 158.1 457.0 159.8 459.6C161.5 462.2 163.2 464.5 164.6 466.4C166.0 468.2 167.4 470.1 168.0 470.8"/>
<path d="M88.8 53.0C90.2 51.8 94.3 48.2 97.0 46.0C99.7 43.8 102.8 41.5 105.0 40.0C107.2 38.5 109.2 37.5 110.0 37.0"/>
<path d="M128.0 26.0C129.5 25.3 134.0 23.3 136.8 22.0C139.6 20.7 142.4 19.3 145.0 18.1C147.6 16.9 150.3 15.8 152.6 14.7C154.9 13.6 157.9 12.1 159.0 11.6"/>
<path d="M185.0 11.6C186.7 12.4 191.7 14.5 195.0 16.1C198.3 17.7 201.7 19.4 205.0 21.2C208.3 23.0 211.7 25.0 215.0 27.0C218.3 29.0 221.7 31.1 225.0 33.2C228.3 35.3 231.7 37.7 235.0 39.8C238.3 41.9 241.7 44.0 245.0 45.8C248.3 47.6 251.7 49.3 255.0 50.8C258.3 52.3 261.7 53.7 265.0 55.0C268.3 56.3 271.7 57.6 275.0 58.8C278.3 60.0 281.7 61.0 285.0 62.0C288.3 63.0 291.8 64.1 295.0 65.0C298.2 65.9 301.5 66.9 304.0 67.5C306.5 68.1 309.0 68.4 310.0 68.6"/>
<path d="M332.0 70.0C334.1 70.3 340.6 71.0 344.4 71.5C348.2 72.1 351.6 72.8 355.0 73.4C358.4 74.0 361.7 74.7 365.0 75.4C368.3 76.1 371.7 76.7 375.0 77.4C378.3 78.2 381.7 78.9 385.0 79.7C388.3 80.5 391.7 81.4 395.0 82.4C398.3 83.4 401.7 84.5 405.0 85.7C408.3 86.9 411.7 88.2 415.0 89.6C418.3 91.0 421.7 92.5 425.0 93.9C428.3 95.3 431.7 96.7 435.0 98.0C438.3 99.3 441.7 100.7 445.0 102.0C448.3 103.3 451.6 104.6 454.6 105.8C457.6 107.0 460.4 107.9 463.0 109.2C465.6 110.5 468.3 111.7 470.4 113.4C472.5 115.1 474.3 117.0 475.5 119.2C476.7 121.4 477.5 123.8 477.6 126.4C477.8 129.0 477.3 132.0 476.5 134.8C475.7 137.6 474.2 140.3 472.8 143.2C471.4 146.1 469.6 149.0 467.8 152.0C466.0 155.0 464.0 158.1 462.2 161.0C460.4 163.9 458.7 166.8 456.8 169.2C454.9 171.6 452.9 173.2 450.6 175.3C448.3 177.4 445.7 179.3 443.0 181.5C440.3 183.7 437.5 186.0 434.6 188.5C431.7 191.0 428.3 194.0 425.6 196.6C422.9 199.2 420.5 201.6 418.4 204.2C416.3 206.8 414.8 209.4 413.2 212.0C411.6 214.6 410.4 217.3 408.8 219.8C407.2 222.3 405.5 224.7 403.6 226.8C401.7 228.9 399.3 231.0 397.2 232.5C395.1 234.1 393.2 235.3 391.0 236.2C388.8 237.1 386.9 237.6 384.2 238.1C381.5 238.6 378.2 239.0 375.0 239.3C371.8 239.6 368.3 239.8 365.0 240.1C361.7 240.4 358.3 240.7 355.0 241.2C351.7 241.7 348.3 242.4 345.0 243.2C341.7 244.0 338.3 245.0 335.4 246.2C332.5 247.4 329.8 248.7 327.6 250.4C325.4 252.1 323.8 254.1 322.2 256.4C320.6 258.7 319.3 261.5 317.8 264.0C316.3 266.5 314.6 269.4 313.0 271.6C311.4 273.8 309.8 275.7 308.4 277.4C307.0 279.1 306.0 280.0 304.8 281.6C303.6 283.2 302.4 285.1 301.0 287.2C299.6 289.3 298.3 291.8 296.6 294.0C294.9 296.2 292.9 298.6 291.0 300.6C289.1 302.6 286.9 304.2 285.0 306.0C283.1 307.8 281.1 309.3 279.4 311.2C277.7 313.1 276.4 315.0 274.6 317.2C272.8 319.4 270.9 321.7 268.6 324.2C266.3 326.7 263.5 329.4 260.6 332.0C257.7 334.6 254.2 337.3 251.2 340.0C248.2 342.7 245.0 345.3 242.6 348.0C240.2 350.7 238.1 353.3 236.7 356.0C235.2 358.7 234.4 361.3 233.9 364.0C233.4 366.7 233.6 369.4 233.6 372.0C233.7 374.6 234.3 377.4 234.4 379.8C234.6 382.2 234.8 384.5 234.7 386.6C234.6 388.7 234.3 390.2 233.8 392.2C233.3 394.2 232.6 396.1 231.6 398.4C230.6 400.7 229.2 403.4 228.0 406.2C226.8 409.0 225.3 412.0 224.5 415.0C223.7 418.0 223.2 421.0 223.2 424.0C223.1 427.0 223.7 430.0 224.1 433.0C224.5 436.0 225.4 439.0 225.7 441.8C226.1 444.6 226.3 447.3 226.2 450.0C226.0 452.7 225.4 455.3 224.7 457.8C224.0 460.3 223.0 462.6 222.0 464.8C221.0 466.9 219.5 469.8 219.0 470.8"/>
<path d="M88.8 263.0C89.5 264.4 91.6 268.3 93.0 271.2C94.3 274.1 95.7 277.1 97.1 280.2C98.5 283.3 100.0 286.7 101.3 289.8C102.6 292.9 103.8 296.0 105.0 299.0C106.2 302.0 107.3 305.0 108.3 308.0C109.3 311.0 110.1 313.9 111.0 316.8C111.9 319.7 112.7 322.4 113.5 325.2C114.3 328.0 115.1 331.0 115.8 333.6C116.5 336.2 117.3 339.8 117.6 341.0"/>
<path d="M128.0 370.0C128.7 371.2 130.7 374.7 132.4 377.0C134.1 379.3 136.1 381.7 138.2 384.0C140.3 386.3 142.8 388.6 145.2 390.8C147.6 393.0 150.3 394.9 152.4 397.4C154.5 399.9 156.2 402.5 157.6 405.6C159.0 408.7 159.8 412.4 160.8 415.8C161.8 419.2 162.3 422.7 163.4 426.0C164.5 429.3 165.7 432.6 167.2 435.8C168.7 439.0 170.4 442.0 172.2 445.0C174.0 448.0 176.1 451.0 178.2 454.0C180.3 457.0 182.7 460.0 184.8 462.8C186.9 465.6 190.0 469.5 191.0 470.8"/>
<path d="M88.8 65.0C90.2 63.6 94.2 59.1 97.0 56.6C99.7 54.1 102.4 52.1 105.4 50.0C108.4 47.9 111.7 46.0 115.0 44.2C118.3 42.4 121.7 40.7 125.0 39.2C128.3 37.7 131.7 36.4 135.0 35.2C138.3 34.0 141.7 33.0 145.0 32.2C148.3 31.4 151.7 30.7 155.0 30.2C158.3 29.7 161.7 29.4 165.0 29.3C168.3 29.2 171.7 29.3 175.0 29.6C178.3 29.8 181.7 30.2 185.0 30.8C188.3 31.5 191.7 32.2 195.0 33.3C198.3 34.4 201.7 35.8 205.0 37.4C208.3 39.0 211.7 41.1 215.0 43.2C218.3 45.3 221.7 47.7 225.0 49.8C228.3 51.9 231.7 54.0 235.0 55.8C238.3 57.6 241.7 59.3 245.0 60.8C248.3 62.3 251.7 63.6 255.0 64.8C258.3 66.0 261.7 67.0 265.0 67.9C268.3 68.9 271.7 69.7 275.0 70.6C278.3 71.4 281.7 72.2 285.0 73.0C288.3 73.8 291.7 74.6 295.0 75.3C298.3 76.1 301.7 76.8 305.0 77.5C308.3 78.3 311.7 79.1 315.0 79.9C318.3 80.6 321.7 81.3 325.0 82.0C328.3 82.7 331.7 83.3 335.0 83.9C338.3 84.5 341.7 84.9 345.0 85.4C348.3 86.0 351.7 86.5 355.0 87.1C358.3 87.7 361.7 88.3 365.0 89.1C368.3 89.8 371.7 90.6 375.0 91.5C378.3 92.4 381.7 93.4 385.0 94.6C388.3 95.9 391.7 97.4 395.0 98.9C398.3 100.5 401.5 102.2 404.6 104.0C407.7 105.7 410.6 107.4 413.8 109.4C417.0 111.4 421.1 113.7 424.0 116.2C426.9 118.7 429.6 121.4 431.4 124.2C433.2 127.0 434.5 129.9 434.8 132.8C435.1 135.7 434.4 138.4 433.4 141.4C432.4 144.4 430.6 147.7 428.8 151.0C427.0 154.3 425.0 157.8 422.6 161.0C420.2 164.2 417.5 167.7 414.6 170.4C411.7 173.1 408.3 175.5 405.0 177.4C401.7 179.3 398.2 180.6 395.0 181.9C391.8 183.2 388.6 184.3 385.8 185.5C383.0 186.7 381.0 187.8 378.2 189.1C375.4 190.3 372.2 191.7 369.0 193.0C365.8 194.3 362.3 195.7 359.0 197.2C355.7 198.7 352.3 200.3 349.0 202.0C345.7 203.7 342.3 205.4 339.4 207.2C336.5 209.0 333.9 211.0 331.4 212.8C328.9 214.6 326.9 216.3 324.6 217.8C322.3 219.3 319.7 220.6 317.4 221.8C315.1 223.0 313.1 223.9 311.0 225.0C308.9 226.1 307.0 227.0 305.0 228.2C303.0 229.4 301.0 230.6 299.0 232.2C297.0 233.8 295.0 235.5 293.0 237.6C291.0 239.7 289.0 242.4 287.0 244.8C285.0 247.2 283.1 249.5 281.0 251.8C278.9 254.1 276.9 256.0 274.6 258.4C272.3 260.8 269.6 263.4 267.0 266.0C264.4 268.6 261.6 271.3 259.0 274.0C256.4 276.7 253.6 279.4 251.4 282.0C249.2 284.6 247.2 287.3 245.6 289.6C244.0 291.9 242.6 294.9 242.0 296.0"/>
<path d="M228.0 324.0C226.8 325.7 223.3 330.7 220.8 334.2C218.3 337.7 215.6 341.4 213.2 344.8C210.8 348.2 208.4 351.6 206.4 354.8C204.4 358.0 202.7 361.1 201.2 364.0C199.7 366.9 198.5 369.9 197.4 372.0C196.3 374.1 195.7 375.5 194.6 376.8C193.5 378.1 192.3 379.1 190.6 379.9C188.9 380.8 186.8 381.7 184.2 382.0C181.6 382.2 178.1 382.0 175.0 381.5C171.9 381.0 168.4 379.9 165.4 378.8C162.4 377.7 159.7 376.3 157.0 374.8C154.3 373.3 151.6 371.6 149.2 369.6C146.8 367.6 144.4 365.3 142.4 362.8C140.4 360.3 138.7 357.6 137.2 354.6C135.7 351.6 134.4 348.2 133.3 345.0C132.2 341.8 131.4 338.4 130.5 335.2C129.6 332.0 128.9 329.1 128.0 326.0C127.1 322.9 126.3 319.9 125.3 316.4C124.3 312.9 123.2 308.9 121.9 305.2C120.7 301.5 119.3 297.7 117.8 294.0C116.3 290.3 114.6 286.7 113.0 283.2C111.4 279.7 109.7 276.4 108.0 273.0C106.3 269.6 104.7 266.3 103.0 262.8C101.3 259.3 99.6 255.6 98.0 252.0C96.4 248.4 94.7 244.7 93.2 241.4C91.6 238.1 89.5 233.6 88.8 232.0"/>
<path d="M88.8 78.0C90.2 76.3 94.2 70.7 97.0 67.8C99.7 64.9 102.4 62.5 105.4 60.4C108.4 58.3 111.7 56.7 115.0 55.3C118.3 53.8 121.7 52.7 125.0 51.7C128.3 50.8 131.7 50.1 135.0 49.5C138.3 48.9 141.7 48.5 145.0 48.3C148.3 48.1 151.7 48.1 155.0 48.3C158.3 48.5 161.7 49.0 165.0 49.5C168.3 50.1 171.7 50.7 175.0 51.5C178.3 52.3 181.7 53.1 185.0 54.2C188.3 55.2 191.6 56.3 194.6 57.6C197.6 58.9 201.6 61.3 203.0 62.0"/>
<path d="M229.0 75.0C230.1 75.3 233.1 76.1 235.8 76.8C238.5 77.6 241.8 78.5 245.0 79.4C248.2 80.2 251.7 81.1 255.0 82.0C258.3 82.9 261.7 83.7 265.0 84.6C268.3 85.6 271.7 86.5 275.0 87.5C278.3 88.5 281.7 89.5 285.0 90.5C288.3 91.5 291.7 92.4 295.0 93.4C298.3 94.3 301.7 95.1 305.0 96.1C308.3 97.0 311.7 98.0 315.0 99.0C318.3 100.0 321.6 101.0 325.0 102.0C328.4 103.0 331.8 104.1 335.2 105.2C338.6 106.3 342.3 107.6 345.6 108.8C348.9 110.0 351.9 111.0 354.8 112.4C357.7 113.8 360.3 115.5 362.8 117.4C365.3 119.3 367.7 121.7 369.6 124.0C371.5 126.3 373.3 128.7 374.5 131.2C375.7 133.7 376.5 136.4 376.6 139.0C376.8 141.6 376.4 144.4 375.5 147.0C374.6 149.6 373.2 152.3 371.4 154.8C369.6 157.3 367.1 159.7 364.4 161.8C361.7 163.9 358.2 165.9 355.0 167.5C351.8 169.0 348.3 170.1 345.0 171.0C341.7 172.0 338.3 172.4 335.0 173.0C331.7 173.6 328.3 174.1 325.0 174.8C321.7 175.4 318.3 176.1 315.0 177.1C311.7 178.1 308.3 179.2 305.0 180.8C301.7 182.4 298.3 184.8 295.0 186.8C291.7 188.8 288.3 190.9 285.0 192.8C281.7 194.7 278.3 196.3 275.0 198.0C271.7 199.7 268.2 201.3 265.0 203.0C261.8 204.7 258.4 206.3 255.6 208.0C252.8 209.7 250.4 211.3 248.0 213.2C245.6 215.1 243.4 217.0 241.2 219.4C239.0 221.8 237.0 224.4 235.0 227.4C233.0 230.4 231.0 233.7 229.0 237.4C227.0 241.1 225.0 245.2 223.0 249.4C221.0 253.6 219.1 258.3 217.2 262.6C215.3 266.9 213.7 271.0 211.8 275.0C209.9 279.0 207.9 283.0 206.0 286.4C204.1 289.8 202.1 292.6 200.2 295.2C198.3 297.8 196.6 299.5 194.8 302.0C193.0 304.5 191.0 307.8 189.3 310.2C187.7 312.6 186.3 314.7 185.0 316.4C183.7 318.1 182.9 319.0 181.5 320.2C180.2 321.4 178.6 322.7 176.8 323.6C175.0 324.5 173.0 325.3 171.0 325.5C169.0 325.7 166.9 325.5 164.6 324.8C162.3 324.2 159.7 323.0 157.4 321.5C155.1 319.9 152.9 317.8 150.6 315.6C148.3 313.4 145.6 310.7 143.4 308.2C141.2 305.7 139.1 303.4 137.2 300.8C135.3 298.2 133.7 295.6 132.2 292.6C130.7 289.6 129.4 286.3 128.0 283.0C126.6 279.7 125.3 276.3 123.8 272.8C122.3 269.3 120.6 265.6 119.0 262.0C117.4 258.4 115.7 254.6 114.0 251.0C112.3 247.4 110.6 243.7 109.0 240.2C107.4 236.7 105.7 233.4 104.2 230.2C102.7 227.0 101.3 224.1 100.0 221.2C98.7 218.3 97.4 215.7 96.2 213.0C95.0 210.3 94.0 207.7 92.8 205.0C91.5 202.3 89.5 198.3 88.8 197.0"/>
<path d="M88.8 101.0C89.5 99.5 91.5 94.5 93.0 91.8C94.5 89.1 95.7 87.0 97.8 84.8C99.9 82.6 102.5 80.3 105.4 78.4C108.3 76.5 111.7 74.7 115.0 73.4C118.3 72.1 121.7 71.1 125.0 70.3C128.3 69.5 131.7 69.1 135.0 68.8C138.3 68.4 141.7 68.2 145.0 68.2C148.3 68.3 151.7 68.4 155.0 68.9C158.3 69.3 161.7 70.0 165.0 70.9C168.3 71.8 171.7 72.9 175.0 74.1C178.3 75.3 181.7 76.8 185.0 78.2C188.3 79.6 191.7 81.3 195.0 82.8C198.3 84.3 201.7 85.6 205.0 87.0C208.3 88.4 211.7 89.7 215.0 91.2C218.3 92.7 221.7 94.4 225.0 96.0C228.3 97.6 231.7 99.3 235.0 100.8C238.3 102.3 241.5 103.6 244.6 105.0C247.7 106.4 250.4 107.6 253.4 109.0C256.4 110.4 259.8 111.8 262.6 113.6C265.4 115.4 268.2 117.8 270.2 120.0C272.2 122.2 273.6 124.6 274.4 126.8C275.2 129.0 275.5 131.0 275.0 133.4C274.5 135.8 273.2 138.4 271.4 141.0C269.6 143.6 267.1 146.4 264.4 149.2C261.7 152.0 258.2 155.1 255.0 158.0C251.8 160.9 248.3 164.0 245.0 166.8C241.7 169.6 238.3 172.3 235.0 174.8C231.7 177.3 228.3 179.6 225.0 182.0C221.7 184.4 218.3 186.7 215.4 189.2C212.5 191.7 209.8 194.3 207.4 196.8C205.0 199.3 203.1 201.5 201.0 204.0C198.9 206.5 196.9 208.9 194.6 211.8C192.3 214.7 189.7 218.4 187.4 221.4C185.1 224.4 183.1 227.3 181.0 230.0C178.9 232.7 177.1 235.4 175.0 237.8C172.9 240.2 170.9 242.7 168.6 244.5C166.3 246.3 163.6 247.8 161.0 248.7C158.4 249.6 155.6 249.9 153.0 249.7C150.4 249.6 147.7 248.7 145.4 247.9C143.1 247.1 140.1 245.5 139.0 245.0"/>
<path d="M122.0 225.0C121.3 224.0 119.3 221.0 118.0 219.0C116.7 217.0 115.4 215.1 114.2 213.0C113.0 210.9 112.0 208.9 110.6 206.2C109.2 203.5 107.6 200.1 106.0 196.6C104.4 193.1 102.6 188.9 100.8 185.0C99.0 181.1 97.0 177.0 95.0 173.1C93.0 169.1 89.8 163.3 88.8 161.4"/>
<path d="M179.0 161.0C180.0 159.8 183.1 156.3 185.0 153.8C186.9 151.3 189.0 148.5 190.5 145.8C192.0 143.1 193.3 140.1 194.0 137.4C194.6 134.7 194.7 132.3 194.5 129.8C194.3 127.3 193.6 124.6 192.6 122.2C191.6 119.8 190.2 117.4 188.6 115.2C187.0 113.0 184.9 111.0 182.8 109.3C180.7 107.5 178.4 106.1 176.0 104.7C173.6 103.3 171.2 102.2 168.4 100.9C165.6 99.7 162.2 98.3 159.0 97.2C155.8 96.1 152.3 95.0 149.0 94.4C145.7 93.8 142.3 93.4 139.0 93.4C135.7 93.4 132.3 93.7 129.0 94.4C125.7 95.1 122.3 96.2 119.4 97.6C116.5 99.0 113.8 101.0 111.6 103.0C109.4 105.0 107.8 107.0 106.4 109.4C105.0 111.8 104.1 114.5 103.4 117.4C102.7 120.3 102.4 123.7 102.4 127.0C102.4 130.3 102.7 133.7 103.4 137.0C104.1 140.3 105.1 143.7 106.4 147.0C107.7 150.3 109.4 153.7 111.2 157.0C113.0 160.3 115.1 163.8 117.4 166.8C119.7 169.8 122.3 172.9 125.0 175.3C127.7 177.6 130.4 179.5 133.4 180.8C136.4 182.1 139.8 183.0 143.0 183.1C146.2 183.2 149.6 182.4 152.4 181.6C155.2 180.8 158.7 178.6 160.0 178.0"/>
</g>
<g font-size="12" text-anchor="middle" class="cl">
<text transform="translate(113.4 22.0) rotate(-33)" y="4.4">6.4</text>
<text transform="translate(408.4 74.4) rotate(12)" y="4.4">6.4</text>
<text transform="translate(241.0 424.0) rotate(-82)" y="4.4">6.4</text>
<text transform="translate(121.4 380.0) rotate(50)" y="4.4">6.4</text>
<text transform="translate(118.6 31.4) rotate(-30)" y="4.4">5.6</text>
<text transform="translate(321.0 68.6) rotate(4)" y="4.4">5.6</text>
<text transform="translate(122.0 356.0) rotate(60)" y="4.4">5.6</text>
<text transform="translate(235.0 310.5) rotate(-60)" y="4.4">4.8</text>
<text transform="translate(217.0 70.0) rotate(22)" y="4.4">4.0</text>
<text transform="translate(130.0 236.0) rotate(40)" y="4.4">3.2</text>
<text transform="translate(169.0 170.0) rotate(-42)" y="4.4">2.4</text>
</g>
<g stroke="#ccc" stroke-width="0.8">
<line x1="89.4" y1="470.4" x2="89.4" y2="472.8"/><line x1="171.0" y1="470.4" x2="171.0" y2="472.8"/><line x1="252.7" y1="470.4" x2="252.7" y2="472.8"/><line x1="334.3" y1="470.4" x2="334.3" y2="472.8"/><line x1="416.0" y1="470.4" x2="416.0" y2="472.8"/><line x1="87" y1="41.5" x2="89.4" y2="41.5"/><line x1="87" y1="102.8" x2="89.4" y2="102.8"/><line x1="87" y1="164.0" x2="89.4" y2="164.0"/><line x1="87" y1="225.3" x2="89.4" y2="225.3"/><line x1="87" y1="286.6" x2="89.4" y2="286.6"/><line x1="87" y1="347.9" x2="89.4" y2="347.9"/><line x1="87" y1="409.1" x2="89.4" y2="409.1"/><line x1="87" y1="470.4" x2="89.4" y2="470.4"/>
</g>
<g font-size="14.3" text-anchor="middle">
<text x="89.4" y="486.6">−3.94</text><text x="171.0" y="486.6">0.06</text><text x="252.7" y="486.6">4.06</text><text x="334.3" y="486.6">8.06</text><text x="416.0" y="486.6">12.06</text>
</g>
<g font-size="14.3" text-anchor="end">
<text x="84.8" y="47.0">5.25</text><text x="84.8" y="108.3">2.25</text><text x="84.8" y="169.5">−0.75</text><text x="84.8" y="230.8">−3.75</text><text x="84.8" y="292.1">−6.75</text><text x="84.8" y="353.4">−9.75</text><text x="84.8" y="414.6">−12.75</text><text x="84.8" y="475.9">−15.75</text>
</g>
<text x="284.8" y="508.9" font-size="22" text-anchor="middle">PC1</text>
<text transform="translate(24.4 241.2) rotate(-90)" font-size="22" text-anchor="middle">PC2</text>
<defs><linearGradient id="cb" x1="0" y1="0" x2="0" y2="1"><stop offset="0.0000" stop-color="#006837"/><stop offset="0.0312" stop-color="#07753e"/><stop offset="0.0625" stop-color="#0f8446"/><stop offset="0.0938" stop-color="#17934e"/><stop offset="0.1250" stop-color="#2aa054"/><stop offset="0.1562" stop-color="#42ac5a"/><stop offset="0.1875" stop-color="#5ab760"/><stop offset="0.2188" stop-color="#70c164"/><stop offset="0.2500" stop-color="#84ca66"/><stop offset="0.2812" stop-color="#98d368"/><stop offset="0.3125" stop-color="#abdb6d"/><stop offset="0.3438" stop-color="#bbe278"/><stop offset="0.3750" stop-color="#cbe982"/><stop offset="0.4062" stop-color="#daf08d"/><stop offset="0.4375" stop-color="#e6f59d"/><stop offset="0.4688" stop-color="#f2faae"/><stop offset="0.5000" stop-color="#feffbe"/><stop offset="0.5312" stop-color="#fff6b0"/><stop offset="0.5625" stop-color="#feec9f"/><stop offset="0.5938" stop-color="#fee28f"/><stop offset="0.6250" stop-color="#fed481"/><stop offset="0.6562" stop-color="#fdc574"/><stop offset="0.6875" stop-color="#fdb567"/><stop offset="0.7188" stop-color="#fba35c"/><stop offset="0.7500" stop-color="#f98e52"/><stop offset="0.7812" stop-color="#f67a49"/><stop offset="0.8125" stop-color="#f16640"/><stop offset="0.8438" stop-color="#e75337"/><stop offset="0.8750" stop-color="#de402e"/><stop offset="0.9062" stop-color="#d42d27"/><stop offset="0.9375" stop-color="#c41e27"/><stop offset="0.9688" stop-color="#b50f26"/><stop offset="1.0000" stop-color="#a50026"/></linearGradient></defs>
<rect x="504.8" y="9" width="23.6" height="464.6" fill="url(#cb)" stroke="#d0d0d0" stroke-width="0.6"/>
<g stroke="#999" stroke-width="0.8"><line x1="528.4" y1="93.1" x2="530.6" y2="93.1"/><line x1="528.4" y1="278.3" x2="530.6" y2="278.3"/><line x1="528.4" y1="463.6" x2="530.6" y2="463.6"/></g>
<g font-size="16"><text x="533" y="99.4">6</text><text x="533" y="284.6">4</text><text x="533" y="469.9">2</text></g>
</svg>
</body></html>
